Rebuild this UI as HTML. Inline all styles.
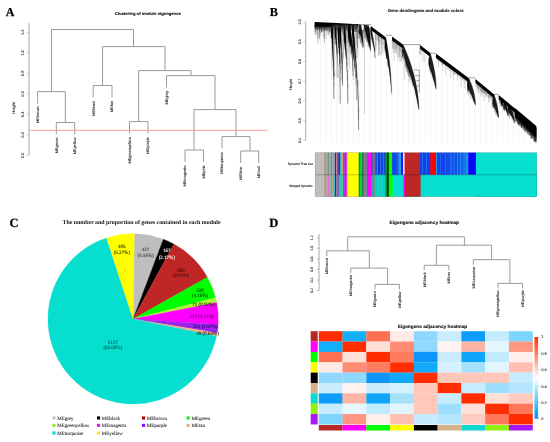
<!DOCTYPE html>
<html lang="en"><head><meta charset="utf-8"><title>WGCNA module figure</title>
<style>html,body{margin:0;padding:0;background:#fff}body{width:550px;height:442px;overflow:hidden}svg{display:block}text{text-rendering:geometricPrecision}</style></head>
<body>
<svg width="550" height="442" viewBox="0 0 550 442">
<rect width="550" height="442" fill="#fff"/>
<text x="5.80" y="15.80" text-anchor="start" font-family='"Liberation Serif", serif' font-size="12.0" font-weight="bold" fill="#000" stroke="#000" stroke-width="0.25" >A</text>
<text x="269.70" y="15.80" text-anchor="start" font-family='"Liberation Serif", serif' font-size="12.2" font-weight="bold" fill="#000" stroke="#000" stroke-width="0.25" >B</text>
<text x="9.50" y="227.30" text-anchor="start" font-family='"Liberation Serif", serif' font-size="12.5" font-weight="bold" fill="#000" stroke="#000" stroke-width="0.25" >C</text>
<text x="269.30" y="227.40" text-anchor="start" font-family='"Liberation Serif", serif' font-size="12.5" font-weight="bold" fill="#000" stroke="#000" stroke-width="0.25" >D</text>
<g id="panelA">
<text x="147.80" y="15.30" text-anchor="middle" font-family='"Liberation Sans", sans-serif' font-size="4.2" font-weight="bold" fill="#111" stroke="#111" stroke-width="0.1" >Clustering of module eigengenes</text>
<path d="M29.00 23.30V155.60" stroke="#c9c9c9" stroke-width="1.7" fill="none"/>
<path d="M26.40 155.30H29.00" stroke="#c4c4c4" stroke-width="0.8" fill="none"/>
<text transform="translate(22.80,155.30) rotate(-90)" text-anchor="middle" font-family='"Liberation Sans", sans-serif' font-size="4.0" font-weight="normal" fill="#222" stroke="#222" stroke-width="0.07" dy="1.44">0.0</text>
<path d="M26.40 134.80H29.00" stroke="#c4c4c4" stroke-width="0.8" fill="none"/>
<text transform="translate(22.80,134.80) rotate(-90)" text-anchor="middle" font-family='"Liberation Sans", sans-serif' font-size="4.0" font-weight="normal" fill="#222" stroke="#222" stroke-width="0.07" dy="1.44">0.2</text>
<path d="M26.40 114.30H29.00" stroke="#c4c4c4" stroke-width="0.8" fill="none"/>
<text transform="translate(22.80,114.30) rotate(-90)" text-anchor="middle" font-family='"Liberation Sans", sans-serif' font-size="4.0" font-weight="normal" fill="#222" stroke="#222" stroke-width="0.07" dy="1.44">0.4</text>
<path d="M26.40 93.80H29.00" stroke="#c4c4c4" stroke-width="0.8" fill="none"/>
<text transform="translate(22.80,93.80) rotate(-90)" text-anchor="middle" font-family='"Liberation Sans", sans-serif' font-size="4.0" font-weight="normal" fill="#222" stroke="#222" stroke-width="0.07" dy="1.44">0.6</text>
<path d="M26.40 73.30H29.00" stroke="#c4c4c4" stroke-width="0.8" fill="none"/>
<text transform="translate(22.80,73.30) rotate(-90)" text-anchor="middle" font-family='"Liberation Sans", sans-serif' font-size="4.0" font-weight="normal" fill="#222" stroke="#222" stroke-width="0.07" dy="1.44">0.8</text>
<path d="M26.40 52.80H29.00" stroke="#c4c4c4" stroke-width="0.8" fill="none"/>
<text transform="translate(22.80,52.80) rotate(-90)" text-anchor="middle" font-family='"Liberation Sans", sans-serif' font-size="4.0" font-weight="normal" fill="#222" stroke="#222" stroke-width="0.07" dy="1.44">1.0</text>
<path d="M26.40 32.30H29.00" stroke="#c4c4c4" stroke-width="0.8" fill="none"/>
<text transform="translate(22.80,32.30) rotate(-90)" text-anchor="middle" font-family='"Liberation Sans", sans-serif' font-size="4.0" font-weight="normal" fill="#222" stroke="#222" stroke-width="0.07" dy="1.44">1.2</text>
<text transform="translate(13.80,108.00) rotate(-90)" text-anchor="middle" font-family='"Liberation Sans", sans-serif' font-size="3.9" font-weight="normal" fill="#222" stroke="#222" stroke-width="0.07" dy="1.40">Height</text>
<path d="M51.50 29.50H133.50" stroke="#909090" stroke-width="0.9" fill="none"/>
<path d="M51.50 29.50V91.60" stroke="#909090" stroke-width="0.9" fill="none"/>
<path d="M37.60 91.60H65.30" stroke="#909090" stroke-width="0.9" fill="none"/>
<path d="M37.60 91.60V103.60" stroke="#909090" stroke-width="0.9" fill="none"/>
<path d="M65.30 91.60V122.50" stroke="#909090" stroke-width="0.9" fill="none"/>
<path d="M56.30 122.50H74.70" stroke="#909090" stroke-width="0.9" fill="none"/>
<path d="M56.30 122.50V134.20" stroke="#909090" stroke-width="0.9" fill="none"/>
<path d="M74.70 122.50V134.20" stroke="#909090" stroke-width="0.9" fill="none"/>
<path d="M133.50 29.50V46.60" stroke="#909090" stroke-width="0.9" fill="none"/>
<path d="M102.50 46.60H165.00" stroke="#909090" stroke-width="0.9" fill="none"/>
<path d="M102.50 46.60V85.50" stroke="#909090" stroke-width="0.9" fill="none"/>
<path d="M93.20 85.50H112.00" stroke="#909090" stroke-width="0.9" fill="none"/>
<path d="M93.20 85.50V97.30" stroke="#909090" stroke-width="0.9" fill="none"/>
<path d="M112.00 85.50V97.30" stroke="#909090" stroke-width="0.9" fill="none"/>
<path d="M165.00 46.60V70.60" stroke="#909090" stroke-width="0.9" fill="none"/>
<path d="M138.60 70.60H191.00" stroke="#909090" stroke-width="0.9" fill="none"/>
<path d="M138.60 70.60V121.60" stroke="#909090" stroke-width="0.9" fill="none"/>
<path d="M129.50 121.60H148.00" stroke="#909090" stroke-width="0.9" fill="none"/>
<path d="M129.50 121.60V133.50" stroke="#909090" stroke-width="0.9" fill="none"/>
<path d="M148.00 121.60V133.50" stroke="#909090" stroke-width="0.9" fill="none"/>
<path d="M191.00 70.60V75.60" stroke="#909090" stroke-width="0.9" fill="none"/>
<path d="M166.50 75.60H215.00" stroke="#909090" stroke-width="0.9" fill="none"/>
<path d="M166.50 75.60V87.50" stroke="#909090" stroke-width="0.9" fill="none"/>
<path d="M215.00 75.60V109.60" stroke="#909090" stroke-width="0.9" fill="none"/>
<path d="M194.00 109.60H236.00" stroke="#909090" stroke-width="0.9" fill="none"/>
<path d="M194.00 109.60V150.00" stroke="#909090" stroke-width="0.9" fill="none"/>
<path d="M185.00 150.00H203.50" stroke="#909090" stroke-width="0.9" fill="none"/>
<path d="M185.00 150.00V162.00" stroke="#909090" stroke-width="0.9" fill="none"/>
<path d="M203.50 150.00V162.00" stroke="#909090" stroke-width="0.9" fill="none"/>
<path d="M236.00 109.60V136.60" stroke="#909090" stroke-width="0.9" fill="none"/>
<path d="M222.00 136.60H250.00" stroke="#909090" stroke-width="0.9" fill="none"/>
<path d="M222.00 136.60V148.50" stroke="#909090" stroke-width="0.9" fill="none"/>
<path d="M250.00 136.60V151.00" stroke="#909090" stroke-width="0.9" fill="none"/>
<path d="M240.70 151.00H258.70" stroke="#909090" stroke-width="0.9" fill="none"/>
<path d="M240.70 151.00V163.00" stroke="#909090" stroke-width="0.9" fill="none"/>
<path d="M258.70 151.00V163.00" stroke="#909090" stroke-width="0.9" fill="none"/>
<text transform="translate(37.60,106.50) rotate(-90)" text-anchor="end" font-family='"Liberation Sans", sans-serif' font-size="3.9" font-weight="normal" fill="#222" stroke="#222" stroke-width="0.07" dy="1.40">MEbrown</text>
<text transform="translate(56.30,137.50) rotate(-90)" text-anchor="end" font-family='"Liberation Sans", sans-serif' font-size="3.9" font-weight="normal" fill="#222" stroke="#222" stroke-width="0.07" dy="1.40">MEgreen</text>
<text transform="translate(74.70,137.50) rotate(-90)" text-anchor="end" font-family='"Liberation Sans", sans-serif' font-size="3.9" font-weight="normal" fill="#222" stroke="#222" stroke-width="0.07" dy="1.40">MEyellow</text>
<text transform="translate(93.20,100.80) rotate(-90)" text-anchor="end" font-family='"Liberation Sans", sans-serif' font-size="3.9" font-weight="normal" fill="#222" stroke="#222" stroke-width="0.07" dy="1.40">MEblack</text>
<text transform="translate(112.00,100.80) rotate(-90)" text-anchor="end" font-family='"Liberation Sans", sans-serif' font-size="3.9" font-weight="normal" fill="#222" stroke="#222" stroke-width="0.07" dy="1.40">MEtan</text>
<text transform="translate(129.50,137.00) rotate(-90)" text-anchor="end" font-family='"Liberation Sans", sans-serif' font-size="3.9" font-weight="normal" fill="#222" stroke="#222" stroke-width="0.07" dy="1.40">MEgreenyellow</text>
<text transform="translate(148.00,137.00) rotate(-90)" text-anchor="end" font-family='"Liberation Sans", sans-serif' font-size="3.9" font-weight="normal" fill="#222" stroke="#222" stroke-width="0.07" dy="1.40">MEpurple</text>
<text transform="translate(166.50,91.00) rotate(-90)" text-anchor="end" font-family='"Liberation Sans", sans-serif' font-size="3.9" font-weight="normal" fill="#222" stroke="#222" stroke-width="0.07" dy="1.40">MEgrey</text>
<text transform="translate(185.00,165.50) rotate(-90)" text-anchor="end" font-family='"Liberation Sans", sans-serif' font-size="3.9" font-weight="normal" fill="#222" stroke="#222" stroke-width="0.07" dy="1.40">MEmagenta</text>
<text transform="translate(203.50,165.50) rotate(-90)" text-anchor="end" font-family='"Liberation Sans", sans-serif' font-size="3.9" font-weight="normal" fill="#222" stroke="#222" stroke-width="0.07" dy="1.40">MEpink</text>
<text transform="translate(222.00,152.00) rotate(-90)" text-anchor="end" font-family='"Liberation Sans", sans-serif' font-size="3.9" font-weight="normal" fill="#222" stroke="#222" stroke-width="0.07" dy="1.40">MEturquoise</text>
<text transform="translate(240.70,166.50) rotate(-90)" text-anchor="end" font-family='"Liberation Sans", sans-serif' font-size="3.9" font-weight="normal" fill="#222" stroke="#222" stroke-width="0.07" dy="1.40">MEblue</text>
<text transform="translate(258.70,166.50) rotate(-90)" text-anchor="end" font-family='"Liberation Sans", sans-serif' font-size="3.9" font-weight="normal" fill="#222" stroke="#222" stroke-width="0.07" dy="1.40">MEred</text>
<path d="M29.30 130.30H267.50" stroke="#ff8f8f" stroke-width="0.9" fill="none"/>
</g>
<g id="panelB">
<text x="425.60" y="12.00" text-anchor="middle" font-family='"Liberation Sans", sans-serif' font-size="4.27" font-weight="bold" fill="#111" stroke="#111" stroke-width="0.1" >Gene dendrogram and module colors</text>
<path d="M305.60 22.00V140.40" stroke="#bdbdbd" stroke-width="1.3" fill="none"/>
<path d="M303.40 22.00H305.60" stroke="#bdbdbd" stroke-width="0.8" fill="none"/>
<text transform="translate(299.30,22.00) rotate(-90)" text-anchor="middle" font-family='"Liberation Sans", sans-serif' font-size="3.6" font-weight="normal" fill="#222" stroke="#222" stroke-width="0.07" dy="1.30">1.0</text>
<path d="M303.40 41.70H305.60" stroke="#bdbdbd" stroke-width="0.8" fill="none"/>
<text transform="translate(299.30,41.70) rotate(-90)" text-anchor="middle" font-family='"Liberation Sans", sans-serif' font-size="3.6" font-weight="normal" fill="#222" stroke="#222" stroke-width="0.07" dy="1.30">0.9</text>
<path d="M303.40 61.50H305.60" stroke="#bdbdbd" stroke-width="0.8" fill="none"/>
<text transform="translate(299.30,61.50) rotate(-90)" text-anchor="middle" font-family='"Liberation Sans", sans-serif' font-size="3.6" font-weight="normal" fill="#222" stroke="#222" stroke-width="0.07" dy="1.30">0.8</text>
<path d="M303.40 81.20H305.60" stroke="#bdbdbd" stroke-width="0.8" fill="none"/>
<text transform="translate(299.30,81.20) rotate(-90)" text-anchor="middle" font-family='"Liberation Sans", sans-serif' font-size="3.6" font-weight="normal" fill="#222" stroke="#222" stroke-width="0.07" dy="1.30">0.7</text>
<path d="M303.40 101.00H305.60" stroke="#bdbdbd" stroke-width="0.8" fill="none"/>
<text transform="translate(299.30,101.00) rotate(-90)" text-anchor="middle" font-family='"Liberation Sans", sans-serif' font-size="3.6" font-weight="normal" fill="#222" stroke="#222" stroke-width="0.07" dy="1.30">0.6</text>
<path d="M303.40 120.80H305.60" stroke="#bdbdbd" stroke-width="0.8" fill="none"/>
<text transform="translate(299.30,120.80) rotate(-90)" text-anchor="middle" font-family='"Liberation Sans", sans-serif' font-size="3.6" font-weight="normal" fill="#222" stroke="#222" stroke-width="0.07" dy="1.30">0.5</text>
<path d="M303.40 140.40H305.60" stroke="#bdbdbd" stroke-width="0.8" fill="none"/>
<text transform="translate(299.30,140.40) rotate(-90)" text-anchor="middle" font-family='"Liberation Sans", sans-serif' font-size="3.6" font-weight="normal" fill="#222" stroke="#222" stroke-width="0.07" dy="1.30">0.4</text>
<text transform="translate(290.70,84.30) rotate(-90)" text-anchor="middle" font-family='"Liberation Sans", sans-serif' font-size="3.75" font-weight="normal" fill="#222" stroke="#222" stroke-width="0.07" dy="1.35">Height</text>
<text x="312.80" y="164.90" text-anchor="end" font-family='"Liberation Sans", sans-serif' font-size="3.12" font-weight="normal" fill="#222" stroke="#222" stroke-width="0.1" >Dynamic Tree Cut</text>
<text x="312.60" y="187.20" text-anchor="end" font-family='"Liberation Sans", sans-serif' font-size="3.12" font-weight="normal" fill="#222" stroke="#222" stroke-width="0.1" >Merged dynamic</text>
<path d="M320.30 26.33V143.5M325.82 26.64V143.5M331.34 26.96V143.5M336.86 27.00V143.5M342.38 27.00V143.5M347.90 27.00V143.5M353.42 27.00V143.5M358.94 27.22V143.5M364.46 28.49V143.5M369.98 29.76V143.5M375.50 33.60V143.5M381.02 38.02V143.5M386.54 41.91V143.5M392.06 41.04V143.5M397.58 45.06V143.5M403.10 49.01V143.5M408.62 49.33V143.5M414.14 49.66V143.5M419.66 49.98V143.5M425.18 54.14V143.5M430.70 58.06V143.5M436.22 58.67V143.5M441.74 62.81V143.5M447.26 66.96V143.5M452.78 71.11V143.5M458.30 75.26V143.5M463.82 79.41V143.5M469.34 83.11V143.5M474.86 83.92V143.5M480.38 88.02V143.5M485.90 92.47V143.5M491.42 96.92V143.5M496.94 99.59V143.5M502.46 103.89V143.5M507.98 110.10V143.5M513.50 116.31V143.5M519.02 122.49V143.5M524.54 128.65V143.5M530.06 134.81V143.5M535.58 140.97V143.5" stroke="#e9e9e9" stroke-width="0.5" fill="none"/>
<path d="M314.90 26.00V35.04M315.50 26.00V34.57M316.10 26.00V34.61M317.00 26.00V32.73M317.30 26.00V37.29M317.90 26.00V38.84M318.80 26.00V30.14M319.40 26.00V31.71M319.70 26.00V34.18M320.90 26.00V35.96M321.20 26.00V32.50M322.70 26.00V32.07M323.00 26.00V30.63M323.60 26.00V37.62M323.90 26.00V38.62M324.50 26.00V31.89M324.80 26.00V38.82M325.10 26.00V30.66M326.00 26.00V30.78M326.30 26.00V38.68M326.90 26.00V32.22M327.20 26.00V30.54M327.80 26.00V35.03M328.10 26.00V31.72M328.70 26.00V35.79M329.00 26.00V33.79M329.30 26.00V32.43M330.20 26.00V37.96M330.50 26.00V33.55M331.40 26.00V38.90M331.70 26.00V32.32M333.01 48.60V54.77M332.53 49.77V54.61M332.74 50.97V59.58M333.17 54.71V62.39M333.44 58.69V66.23M333.60 62.90V66.99M333.50 68.86V75.76M334.10 70.41V75.66M333.69 71.99V76.57M334.30 73.59V77.04M334.18 75.22V79.58M334.22 81.96V87.11M336.49 42.28V46.03M336.98 45.80V54.27M337.23 47.05V49.94M336.79 47.05V53.93M337.43 49.66V53.02M339.22 50.08V53.30M339.63 50.08V55.55M339.95 52.45V61.32M339.88 52.45V58.05M339.71 54.92V63.53M339.98 58.79V64.22M339.52 58.79V64.65M339.90 60.14V66.73M340.55 67.19V73.95M340.23 78.04V81.59M342.01 52.18V60.65M341.68 53.53V58.61M341.86 54.91V58.16M342.16 57.77V63.42M341.97 59.24V62.68M346.36 51.26V58.19M345.78 52.45V56.88M346.80 56.19V59.80M347.17 62.89V67.15M346.88 68.67V72.12M347.40 76.42V80.99M348.07 84.74V87.48M350.77 43.94V52.56M351.70 46.42V51.80M351.76 49.05V53.32M351.69 50.42V57.24M352.47 56.30V62.43M352.41 48.36V54.08M352.93 49.51V54.12M352.73 50.70V55.37M353.40 54.39V59.30M353.20 54.39V57.34M354.48 59.68V66.19M354.80 63.90V68.62M354.77 63.90V68.26M355.12 66.84V71.85M355.39 69.88V74.45M355.86 74.62V78.66M355.87 74.62V77.18M356.19 79.57V85.73M356.27 62.45V67.84M356.35 63.70V66.68M356.05 64.96V70.06M356.46 70.22V77.34M356.89 71.57V77.48M356.49 72.95V76.45M356.91 74.34V79.30M357.71 80.07V84.98M358.80 109.19V113.07M332.05 24.00V70.47M332.38 24.00V60.16M333.37 24.00V67.75M333.70 24.00V73.49M334.36 24.00V76.20M336.01 24.00V46.01M336.34 24.00V76.59M337.00 24.00V57.55M338.32 24.00V50.27M339.64 24.00V59.23M339.97 24.00V54.61M340.63 24.00V69.79M340.96 24.00V69.75M341.62 24.00V79.64M342.28 24.00V81.79M343.27 24.00V58.33M343.60 24.00V58.99M345.58 24.00V51.40M346.24 24.00V53.46M347.89 24.00V66.05M348.55 24.00V53.25M349.54 24.00V68.88M349.87 24.00V47.29M350.53 24.00V55.66M352.18 24.00V45.54M352.51 24.00V70.92M353.17 24.00V79.99M353.50 24.00V60.77M353.83 24.00V54.64M355.81 24.00V68.00M356.80 24.00V58.05M357.46 24.00V50.38M357.79 24.00V57.79M339.30 70.00V103.80M333.50 60.00V99.00M347.70 70.00V103.50M342.50 60.00V85.50M358.60 95.00V130.00M358.30 80.00V120.00M364.40 40.00V114.00M371.01 30.00V33.71M370.95 30.16V32.71M370.98 30.16V35.12M371.33 30.48V33.26M371.48 30.92V35.66M371.19 30.92V37.25M370.77 31.47V34.42M371.35 32.80V35.12M371.26 33.59V40.02M371.46 34.44V36.91M371.34 35.36V41.35M371.64 35.36V40.22M372.12 38.50V43.36M372.46 39.66V43.21M372.80 40.88V44.40M373.12 40.88V42.97M373.11 43.47V46.50M373.70 44.84V47.30M373.91 46.26V50.91M374.32 47.73V52.16M374.95 55.76V57.58M376.11 32.92V46.94M378.45 34.66V44.66M381.52 36.93V45.53M385.38 39.79V53.61M375.41 32.41V39.50M377.09 33.65V39.86M377.81 34.18V41.00M378.52 34.71V40.83M379.89 35.72V43.36M381.37 36.82V39.93M383.24 38.20V44.96M384.64 39.24V42.27M387.53 57.32V62.49M387.45 59.79V66.79M388.27 61.07V64.53M387.93 61.07V66.94M388.32 62.38V66.33M388.86 63.72V66.49M389.05 65.09V67.77M389.35 66.49V70.05M389.32 67.92V70.35M389.46 69.38V75.65M389.86 72.37V75.12M390.04 73.90V76.65M390.43 77.06V81.00M390.65 80.31V83.27M391.44 87.13V90.48M391.71 90.69V94.78M394.26 41.32V60.89M395.62 42.30V52.62M399.08 44.77V61.66M401.73 46.68V62.48M392.97 40.39V43.40M393.65 40.88V48.65M395.42 42.15V50.15M396.51 42.93V47.95M397.53 43.66V46.75M399.05 44.75V49.33M400.35 45.69V51.84M401.36 46.41V53.46M402.50 47.23V51.63M402.91 49.00V56.21M402.42 49.11V56.89M402.53 49.11V54.65M402.70 49.33V58.03M402.61 49.63V57.53M403.24 49.99V55.27M403.20 50.42V57.97M403.38 50.42V53.37M403.16 50.90V54.16M403.17 51.43V59.76M403.91 52.01V55.72M403.63 53.30V60.26M404.21 54.75V58.25M404.66 54.75V57.95M404.40 55.54V58.58M404.27 55.54V59.02M404.77 56.36V62.46M405.33 57.22V60.41M404.63 57.22V61.75M405.17 59.04V63.61M405.28 59.04V66.28M405.77 60.00V67.48M405.70 60.99V68.95M406.41 62.01V66.85M405.93 62.01V65.58M406.08 63.06V66.85M406.86 64.15V69.24M406.75 65.26V69.42M406.95 65.26V71.12M407.57 66.40V72.22M407.48 66.40V73.60M407.98 67.57V72.88M407.92 67.57V74.84M408.86 68.77V75.62M408.98 70.00V77.43M408.71 70.00V76.09M409.50 71.25V74.42M409.57 72.53V78.27M409.94 72.53V77.34M410.26 73.83V76.16M410.63 75.16V80.19M410.94 76.52V81.11M411.38 76.52V83.32M411.67 77.90V80.51M412.43 79.30V85.09M412.49 79.30V83.77M412.65 80.73V87.07M413.31 82.17V86.48M413.23 83.65V86.65M415.73 91.32V94.37M415.82 91.32V93.32M416.09 92.92V97.02M416.69 96.16V98.33M417.37 99.47V103.63M418.00 102.81V104.62M404.20 50.00V80.00M409.00 60.00V83.00M406.50 55.00V72.00M421.09 49.28V55.41M422.94 50.73V61.50M424.98 52.33V62.25M428.55 55.13V65.30M429.32 56.90V60.55M429.81 57.33V64.98M429.83 57.33V63.36M429.23 58.22V63.62M429.04 58.22V65.48M429.35 58.78V65.34M429.13 58.78V64.45M429.20 59.42V62.30M429.22 59.42V64.74M429.21 60.89V64.56M429.65 60.89V63.97M429.41 61.71V68.03M429.28 63.53V70.79M429.47 64.52V67.10M429.46 65.56V69.11M430.04 66.64V71.85M430.18 67.77V70.43M431.01 68.95V74.97M430.30 68.95V72.26M430.77 70.17V74.06M432.04 72.73V77.43M432.51 74.07V76.50M432.32 74.07V76.07M432.68 75.44V79.07M433.13 75.44V80.49M433.99 78.30V80.49M433.38 78.30V83.03M435.06 82.83V86.50M438.46 59.29V67.66M442.87 62.58V70.86M445.67 64.68V75.17M450.40 68.21V78.14M453.28 70.36V79.72M457.25 73.33V80.81M461.17 76.25V87.00M464.87 79.01V88.36M467.86 81.25V90.52M437.77 58.78V61.62M439.25 59.88V62.23M440.46 60.79V62.33M441.38 61.47V64.89M442.14 62.04V65.07M442.86 62.58V65.07M444.35 63.69V65.68M445.76 64.75V66.40M446.85 65.55V69.11M448.19 66.55V69.03M449.28 67.37V70.65M450.54 68.31V71.68M451.62 69.12V71.24M452.82 70.02V72.92M453.87 70.80V74.76M454.50 71.27V74.72M455.33 71.89V75.20M456.78 72.97V75.16M457.84 73.77V76.59M458.84 74.51V76.43M459.97 75.35V79.08M461.13 76.22V78.44M462.43 77.20V79.75M463.08 77.68V80.69M464.04 78.39V81.22M465.53 79.51V82.43M466.98 80.59V82.98M468.24 81.53V83.22M468.03 81.50V89.70M467.69 81.50V86.69M467.49 81.67V86.95M467.59 81.67V86.55M467.63 82.51V86.08M468.12 82.51V89.96M467.89 83.10V90.18M468.15 83.10V91.19M468.08 83.78V90.77M468.22 83.78V87.87M467.80 84.55V89.89M468.08 85.40V93.78M467.77 85.40V91.66M468.43 86.33V90.87M468.00 86.33V93.61M467.88 87.32V91.83M468.92 88.39V95.51M469.10 89.51V93.11M469.98 90.70V93.36M470.50 91.94V94.67M470.32 91.94V98.89M471.35 94.58V96.79M472.09 95.97V100.73M472.84 97.40V100.47M473.34 98.87V101.63M473.26 98.87V100.79M474.09 100.38V103.04M474.29 100.38V103.71M477.11 83.91V92.91M478.57 85.11V93.45M480.18 86.43V95.24M481.82 87.79V96.99M483.88 89.48V100.84M485.04 90.43V96.57M486.32 91.49V97.68M488.40 93.19V102.92M489.65 94.23V101.37M491.84 96.03V107.04M493.74 97.58V107.73M493.08 97.90V104.88M493.65 97.90V105.43M493.02 98.09V101.19M493.09 98.47V101.52M493.31 98.47V107.36M493.08 98.99V106.94M493.38 98.99V105.63M493.25 99.62V104.73M493.31 100.36V104.19M493.46 101.19V105.25M493.42 101.19V107.77M492.80 102.10V106.04M493.32 102.10V108.65M493.14 103.10V107.72M493.18 104.16V109.21M494.07 105.30V107.93M494.43 105.30V109.55M494.28 106.51V111.65M495.09 107.77V112.26M495.37 109.09V114.33M496.44 110.46V112.61M496.13 110.46V115.89M497.98 114.80V116.97M497.35 114.80V116.59M499.76 99.43V107.04M501.04 100.48V104.70M501.59 100.93V106.65M502.21 101.44V106.12M502.84 101.96V109.81M503.44 102.46V107.47M504.37 103.23V109.48M504.96 103.71V111.12M505.87 104.46V110.78M506.74 105.18V109.42M507.75 106.01V111.17M508.50 106.63V110.68M509.75 107.65V115.18M510.55 108.32V115.57M511.85 109.38V114.18M512.64 110.04V118.29M513.43 110.69V118.93M514.69 111.73V115.97M501.20 101.00V103.93M501.23 101.16V106.53M500.97 101.48V104.97M501.31 101.48V105.22M501.43 101.92V107.44M501.43 102.47V104.89M501.26 102.47V104.97M502.12 104.59V106.32M503.90 107.35V108.73M503.87 108.40V109.73M504.11 104.22V109.69M504.53 104.67V110.91M504.86 106.04V110.88M504.25 106.04V110.20M504.87 106.91V111.03M504.44 106.91V109.48M506.45 110.14V113.54M507.81 108.00V114.40M507.87 108.00V112.97M508.40 108.20V113.25M508.08 108.20V115.72M507.88 108.61V116.00M507.97 108.61V111.90M508.04 109.16V115.28M508.49 109.84V115.43M508.88 109.84V114.03M508.95 110.63V113.56M508.85 110.63V115.37M509.18 112.49V117.50M509.38 112.49V118.94M510.40 113.55V116.01M511.97 115.88V121.30M512.51 117.15V119.48M513.87 119.84V122.37M514.03 119.84V123.66" stroke="#000" stroke-opacity="0.33" stroke-width="0.5" fill="none"/>
<path d="M317.90 26.00V43.72M319.40 26.00V37.94M319.70 26.00V39.52M324.50 26.00V43.28M331.90 27.50V31.59M332.13 27.50V32.94M332.02 27.59V38.75M332.12 27.77V38.18M331.79 27.77V38.51M331.82 28.01V37.39M332.43 28.32V38.80M331.75 28.67V32.44M332.24 29.06V34.55M331.83 29.98V39.04M331.87 29.98V37.79M332.44 31.05V36.03M331.92 31.05V37.90M331.86 31.64V37.86M332.02 32.26V42.45M331.79 33.60V37.07M332.31 35.07V41.96M332.62 35.86V39.68M332.49 39.27V48.90M332.61 40.20V49.48M332.52 42.14V49.47M332.56 42.14V52.15M332.89 46.34V49.53M335.45 27.50V37.37M335.27 27.60V32.73M335.51 28.08V39.34M335.44 28.43V34.42M334.94 29.28V36.15M335.49 29.28V36.51M335.56 29.78V33.68M335.23 30.33V39.78M335.08 30.33V37.69M335.87 32.23V36.19M335.54 32.23V37.72M335.62 34.51V43.87M336.07 35.35V45.49M335.98 37.14V43.78M336.42 38.10V44.74M336.42 41.18V46.87M338.39 27.50V36.48M338.23 27.50V36.46M338.48 27.76V37.31M338.62 27.76V32.76M338.16 28.00V31.78M338.49 28.00V36.02M338.24 28.29V33.39M338.16 29.01V39.99M338.72 29.01V35.05M338.53 29.43V36.27M338.69 29.90V39.95M338.50 29.90V39.13M338.31 30.40V35.11M338.16 30.40V40.79M338.68 32.10V39.36M338.95 32.73V41.79M338.99 34.09V44.06M338.91 35.56V39.39M338.70 35.56V38.94M338.87 36.35V44.24M339.11 36.35V44.55M338.92 37.16V44.59M339.22 37.99V45.91M338.99 39.75V48.24M338.82 39.75V43.30M338.83 40.67V44.53M339.26 40.67V47.74M339.18 44.60V52.87M339.45 44.60V48.76M339.15 45.65V52.83M339.58 46.72V52.56M339.48 48.94V55.58M339.53 48.94V53.84M340.26 27.50V38.37M339.96 27.50V31.78M339.73 27.60V35.60M340.22 27.79V33.66M339.85 28.06V36.80M339.92 28.06V37.30M339.80 28.39V34.69M339.80 28.77V37.81M340.40 30.20V35.97M340.08 30.20V40.85M340.07 30.76V36.96M340.13 31.36V37.70M340.26 31.36V40.83M340.48 32.69V42.64M339.93 33.41V40.55M340.49 35.78V44.71M340.12 35.78V44.34M340.61 36.64V40.87M340.40 38.47V46.96M340.56 39.43V49.24M344.10 27.50V34.78M344.73 27.50V36.71M344.22 27.59V33.66M344.80 27.76V35.37M344.54 28.00V32.68M344.78 28.29V38.49M344.35 28.63V37.78M344.53 29.01V36.17M344.81 29.90V36.60M344.86 30.40V35.45M344.62 30.40V35.05M344.47 30.93V34.93M344.62 31.50V40.42M344.80 31.50V35.71M344.64 32.10V42.91M344.61 32.73V41.52M344.79 33.39V40.22M345.13 33.39V42.82M344.86 34.09V39.61M344.80 34.09V39.67M344.72 34.81V43.13M344.57 34.81V43.61M345.20 35.56V43.05M345.15 36.35V40.30M344.57 36.35V44.64M344.86 37.16V46.56M344.76 37.99V42.37M344.96 38.86V42.59M345.10 39.75V47.58M345.01 40.67V46.76M345.12 41.61V49.69M345.20 43.58V49.04M345.30 44.60V51.16M345.80 46.72V55.80M345.97 48.94V58.38M348.54 27.50V38.20M348.57 27.60V33.53M348.03 27.60V32.09M348.40 27.81V34.46M348.56 27.81V35.49M348.28 28.10V34.71M348.09 28.10V38.80M348.78 28.86V34.05M348.91 29.84V34.20M348.63 31.02V36.65M348.49 31.02V41.18M348.82 31.67V39.41M348.66 32.37V42.37M349.03 32.37V42.63M348.91 33.11V38.56M349.65 34.72V40.47M349.82 35.59V45.83M349.62 35.59V40.12M349.34 36.49V44.71M350.12 37.44V46.54M350.10 38.43V47.86M349.92 39.45V44.52M350.09 40.51V45.04M349.40 27.50V32.77M349.42 27.59V31.37M349.59 27.59V35.66M349.17 27.77V31.40M349.42 28.01V35.01M349.72 28.01V32.07M349.55 28.31V38.07M349.28 28.65V34.59M349.41 28.65V37.04M349.42 29.05V37.15M349.87 29.05V33.86M349.40 29.48V38.35M349.66 29.95V36.24M350.18 30.46V34.21M350.01 30.46V41.56M349.84 31.01V40.19M349.67 31.01V41.31M349.87 31.59V37.28M349.62 31.59V35.25M349.93 32.86V40.42M350.20 33.54V43.93M350.10 33.54V44.30M350.25 34.25V42.45M350.31 34.99V43.48M350.58 36.57V46.02M350.89 36.57V41.41M350.53 37.40V44.64M350.55 37.40V42.20M350.87 38.26V48.66M351.09 40.06V43.74M351.14 41.00V44.27M351.13 41.00V46.91M351.51 42.97V47.12M351.99 44.00V52.00M351.81 45.05V50.68M352.26 45.05V50.28M352.28 47.23V51.78M352.08 47.23V54.14M352.82 27.50V33.88M352.73 27.57V32.90M352.59 27.73V35.57M352.78 27.73V35.17M353.10 27.93V35.90M352.92 28.48V39.01M353.21 28.48V37.49M353.18 29.18V36.53M353.01 29.58V35.30M352.93 30.01V35.43M352.89 30.01V37.51M352.83 30.48V34.46M353.34 30.48V34.81M353.43 30.97V38.17M353.50 30.97V41.21M353.05 31.49V38.87M353.46 32.04V37.41M353.19 32.61V41.90M353.58 33.83V42.00M353.36 34.48V42.97M353.26 35.15V38.61M353.77 36.56V43.06M354.02 37.31V48.05M353.84 37.31V41.51M353.56 38.07V46.84M353.66 38.85V42.34M353.75 39.66V45.22M353.83 40.49V48.29M354.21 42.21V49.41M353.87 43.10V47.08M354.19 44.01V48.07M353.82 44.01V51.27M354.38 44.94V50.08M354.26 44.94V50.73M353.99 45.89V49.51M354.10 46.86V51.29M354.81 47.85V54.37M354.33 49.89V56.78M355.12 50.94V59.93M354.71 54.20V58.34M354.75 54.20V59.61M355.22 55.32V58.38M355.70 56.46V59.50M332.12 24.00V45.66M332.45 24.00V44.53M333.44 24.00V35.03M333.77 24.00V39.99M334.43 24.00V44.40M336.08 24.00V36.59M336.41 24.00V36.22M337.07 24.00V33.27M338.39 24.00V47.78M339.71 24.00V42.03M340.04 24.00V36.11M340.70 24.00V40.86M341.03 24.00V32.30M341.69 24.00V32.09M342.35 24.00V33.53M343.34 24.00V35.58M343.67 24.00V41.36M345.65 24.00V42.67M346.31 24.00V45.71M347.96 24.00V43.38M348.62 24.00V37.54M349.61 24.00V42.51M349.94 24.00V37.41M350.60 24.00V37.57M352.25 24.00V46.14M352.58 24.00V36.74M353.24 24.00V46.16M353.57 24.00V41.39M353.90 24.00V38.37M355.88 24.00V44.92M356.87 24.00V38.32M357.53 24.00V47.82M357.86 24.00V32.57M358.80 30.00V38.97M359.25 30.00V37.41M359.70 30.00V38.83M360.15 30.00V41.84M360.60 30.00V42.81M361.05 30.00V44.37M361.50 30.00V43.49M361.95 30.00V46.80M362.40 30.00V47.56M362.85 30.00V48.82M363.30 30.00V47.28M363.60 28.00V33.34M364.05 28.00V32.25M364.50 28.00V37.64M364.95 28.00V39.23M365.40 28.00V40.16M365.85 28.00V36.97M366.30 28.00V39.78M366.75 28.00V41.87M367.20 28.00V43.03M367.65 28.00V42.09M368.10 28.00V46.65M368.55 28.00V45.38M369.00 28.00V47.58M369.45 28.00V46.83M369.90 28.00V50.22M370.35 28.00V49.20M375.75 32.66V50.81M378.42 34.64V55.64M379.46 35.40V54.78M381.15 36.66V55.68M382.73 37.83V53.20M384.42 39.08V50.49M385.14 40.00V48.24M385.50 40.11V43.74M385.31 40.11V49.11M385.81 40.35V44.58M385.50 40.35V48.59M385.79 40.67V46.55M385.44 40.67V45.95M385.86 41.05V47.05M385.43 41.05V48.85M385.74 41.51V45.41M385.31 41.51V46.54M385.47 42.02V48.56M385.50 42.02V48.45M385.69 42.58V48.40M385.83 43.20V47.45M385.90 43.86V50.17M385.37 43.86V51.70M385.94 44.57V49.97M385.82 44.57V53.26M385.82 45.32V49.47M385.74 46.12V53.89M386.12 46.95V53.01M385.82 46.95V50.55M386.33 48.74V52.66M386.22 49.69V55.80M386.40 49.69V55.64M386.73 51.70V58.26M386.75 52.76V59.28M386.27 52.76V55.42M386.45 53.85V57.95M386.36 53.85V58.98M386.71 54.97V58.93M387.18 54.97V58.31M392.35 39.95V49.15M393.86 41.03V52.86M396.43 42.87V53.54M397.90 43.93V57.17M399.42 45.02V57.20M400.93 46.10V61.12M402.30 47.08V56.94M476.36 83.30V86.49M477.21 83.99V88.63M478.40 84.97V89.72M479.47 85.85V88.07M480.06 86.34V91.26M480.90 87.03V90.57M481.55 87.56V92.15M482.36 88.23V93.20M482.82 88.61V93.59M483.23 88.95V91.39M483.94 89.53V93.45M484.43 89.93V93.62M485.58 90.88V94.19M486.59 91.71V95.49M487.46 92.42V94.94M488.23 93.06V97.76M489.17 93.83V96.48M489.93 94.45V98.08M490.60 95.00V98.74M491.50 95.75V97.80M492.08 96.22V100.19M492.65 96.69V98.91M493.66 97.52V100.52M499.18 98.94V103.07M499.95 99.58V103.53M500.80 100.28V102.43M501.34 100.73V105.21M502.10 101.35V103.25M502.98 102.08V106.17M503.80 102.76V105.53M504.47 103.30V108.16M505.31 104.00V107.52M506.14 104.68V109.68M506.94 105.34V109.14M507.82 106.07V108.07M508.36 106.51V109.99M508.74 106.83V111.06M509.08 107.10V110.80M509.55 107.49V110.12M510.21 108.04V110.21M510.78 108.50V113.00M511.67 109.24V111.66M512.19 109.67V113.60M512.60 110.01V114.48M513.02 110.35V113.80M513.53 110.77V112.27M513.83 111.02V112.52M514.32 111.43V113.89" stroke="#000" stroke-opacity="0.55" stroke-width="0.45" fill="none"/>
<path d="M314.80 25.00V28.52M315.10 25.00V31.77M315.40 25.00V28.58M315.70 25.00V29.23M316.00 25.00V27.67M316.30 25.00V29.48M316.60 25.00V30.64M316.90 25.00V27.54M317.20 25.00V27.54M317.50 25.00V29.90M317.80 25.00V27.51M318.10 25.00V29.64M318.40 25.00V29.39M318.70 25.00V27.62M319.00 25.00V28.90M319.30 25.00V27.52M319.60 25.00V27.50M319.90 25.00V31.05M320.20 25.00V28.85M320.50 25.00V29.55M320.80 25.00V28.75M321.10 25.00V28.55M321.40 25.00V32.48M321.70 25.00V32.46M322.00 25.00V31.03M322.30 25.00V30.00M322.60 25.00V28.00M322.90 25.00V27.92M323.20 25.00V30.44M323.50 25.00V28.30M323.80 25.00V28.25M324.10 25.00V31.09M324.40 25.00V27.50M324.70 25.00V28.60M325.00 25.00V28.29M325.30 25.00V29.48M325.60 25.00V30.53M325.90 25.00V27.86M326.20 25.00V28.05M326.50 25.00V30.37M326.80 25.00V27.57M327.10 25.00V27.55M327.40 25.00V30.68M327.70 25.00V27.66M328.00 25.00V28.50M328.30 25.00V30.18M328.60 25.00V27.59M328.90 25.00V27.57M329.20 25.00V27.73M329.50 25.00V32.21M329.80 25.00V30.73M330.10 25.00V27.96M330.40 25.00V27.72M330.70 25.00V31.15M331.00 25.00V29.56M331.30 25.00V27.55M331.60 25.00V27.73M331.90 25.00V30.49M332.00 24.00V26.10M332.33 24.00V26.75M332.66 24.00V28.36M332.99 24.00V30.83M333.32 24.00V26.52M333.65 24.00V26.12M333.98 24.00V28.06M334.31 24.00V26.71M334.64 24.00V30.06M334.97 24.00V28.44M335.30 24.00V31.17M335.63 24.00V30.27M335.96 24.00V26.35M336.29 24.00V26.04M336.62 24.00V30.57M336.95 24.00V26.24M337.28 24.00V30.70M337.61 24.00V28.91M337.94 24.00V31.14M338.27 24.00V26.12M338.60 24.00V28.99M338.93 24.00V30.92M339.26 24.00V29.72M339.59 24.00V26.52M339.92 24.00V26.01M340.25 24.00V29.00M340.58 24.00V26.88M340.91 24.00V26.46M341.24 24.00V27.91M341.57 24.00V26.28M341.90 24.00V28.86M342.23 24.00V27.28M342.56 24.00V29.45M342.89 24.00V29.79M343.22 24.00V27.30M343.55 24.00V26.34M343.88 24.00V30.46M344.21 24.00V27.57M344.54 24.00V27.85M344.87 24.00V28.16M345.20 24.00V31.48M345.53 24.00V27.22M345.86 24.00V28.65M346.19 24.00V26.91M346.52 24.00V30.74M346.85 24.00V29.34M347.18 24.00V27.84M347.51 24.00V31.41M347.84 24.00V27.45M348.17 24.00V27.80M348.50 24.00V26.10M348.83 24.00V27.76M349.16 24.00V31.60M349.49 24.00V26.95M349.82 24.00V26.73M350.15 24.00V31.08M350.48 24.00V26.76M350.81 24.00V30.46M351.14 24.00V30.70M351.47 24.00V28.72M351.80 24.00V28.42M352.13 24.00V26.19M352.46 24.00V27.32M352.79 24.00V29.28M353.12 24.00V27.21M353.45 24.00V26.02M353.78 24.00V27.31M354.11 24.00V29.30M354.44 24.00V28.83M354.77 24.00V31.74M355.10 24.00V31.79M355.43 24.00V31.93M355.76 24.00V27.49M356.09 24.00V29.52M356.42 24.00V31.98M356.75 24.00V26.10M357.08 24.00V29.19M357.41 24.00V26.61M357.74 24.00V27.35M514.90 110.00V119.59M515.12 110.19V118.26M515.34 110.37V118.38M515.56 110.56V118.94M515.78 110.74V122.12M516.00 110.93V120.86M516.22 111.12V121.76M516.44 111.30V120.72M516.66 111.49V120.97M516.88 111.67V120.33M517.10 111.86V124.15M517.32 112.05V122.71M517.54 112.23V120.79M517.76 112.42V123.60M517.98 112.61V123.36M518.20 112.79V123.65M518.42 112.98V124.58M518.64 113.16V124.08M518.86 113.35V125.52M519.08 113.54V126.16M519.30 113.72V123.85M519.52 113.91V125.17M519.74 114.09V124.16M519.96 114.28V124.55M520.18 114.47V124.58M520.40 114.65V126.07M520.62 114.84V124.97M520.84 115.02V125.19M521.06 115.21V127.64M521.28 115.40V127.66M521.50 115.58V127.33M521.72 115.77V128.31M521.94 115.95V126.47M522.16 116.14V127.86M522.38 116.33V126.32M522.60 116.51V126.84M522.82 116.70V126.09M523.04 116.88V129.46M523.26 117.07V130.24M523.48 117.26V127.68M523.70 117.44V128.25M523.92 117.63V127.30M524.14 117.82V127.64M524.36 118.00V130.10M524.58 118.19V131.47M524.80 118.37V128.06M525.02 118.56V129.05M525.24 118.75V131.55M525.46 118.93V129.37M525.68 119.12V132.53M525.90 119.30V130.40M526.12 119.49V131.16M526.34 119.68V130.17M526.56 119.86V130.80M526.78 120.05V131.62M527.00 120.23V131.19M527.22 120.42V133.45M527.44 120.61V130.53M527.66 120.79V133.49M527.88 120.98V134.46M528.10 121.16V132.54M528.32 121.35V132.16M528.54 121.54V132.06M528.76 121.72V132.10M528.98 121.91V135.54M529.20 122.09V134.91M529.42 122.28V132.50M529.64 122.47V134.69M529.86 122.65V135.57M530.08 122.84V134.54M530.30 123.03V133.49M530.52 123.21V135.45M530.74 123.40V135.38M530.96 123.58V138.39M531.18 123.77V135.86M531.40 123.96V138.61M531.62 124.14V138.59M531.84 124.33V137.50M532.06 124.51V135.71M532.28 124.70V139.00M532.50 124.89V136.00M532.72 125.07V138.33M532.94 125.26V136.48M533.16 125.44V136.69M533.38 125.63V138.35M533.60 125.82V137.43M533.82 126.00V141.41M534.04 126.19V139.78M534.26 126.37V141.44M534.48 126.56V141.93M534.70 126.75V141.27M534.92 126.93V140.99M535.14 127.12V140.44M535.36 127.30V142.03M535.58 127.49V141.77M535.80 127.68V139.70M536.02 127.86V141.60M536.24 128.05V141.30M536.10 127.00V143.20" stroke="#000" stroke-opacity="0.8" stroke-width="0.42" fill="none"/>
<path d="M332.00 24.00L332.01 24.10L332.02 24.31L332.03 24.59L332.05 24.93L332.07 25.34L332.09 25.79L332.11 26.29L332.14 26.83L332.17 27.42L332.20 28.05L332.23 28.71L332.26 29.42L332.29 30.16L332.33 30.93L332.37 31.74L332.40 32.59L332.44 33.46L332.48 34.37L332.52 35.30L332.56 36.27L332.60 37.27L332.65 38.29L332.69 39.35L332.73 40.43L332.78 41.54L332.82 42.67L332.87 43.83L332.91 45.02L332.96 46.24L333.00 47.48L333.05 48.74L333.09 50.03L333.14 51.34L333.18 52.68L333.22 54.04L333.27 55.43L333.31 56.84L333.35 58.27L333.40 59.72L333.44 61.20L333.48 62.70L333.52 64.22L333.56 65.76L333.59 67.33L333.63 68.91L333.67 70.52L333.70 72.15L333.73 73.80L333.77 75.47L333.80 77.16L333.82 78.87L333.85 80.60L333.88 82.35L333.90 84.13L333.92 85.92L333.94 87.73L333.96 89.56L333.97 91.41L333.98 93.28L333.99 95.17L334.00 97.07L334.00 99.00L334.00 99.00L334.00 97.07L333.99 95.17L333.98 93.29L333.97 91.43L333.95 89.59L333.93 87.77L333.90 85.98L333.87 84.21L333.84 82.46L333.80 80.74L333.77 79.04L333.73 77.37L333.68 75.72L333.63 74.09L333.59 72.49L333.53 70.91L333.48 69.36L333.42 67.83L333.36 66.33L333.30 64.85L333.24 63.40L333.17 61.97L333.11 60.57L333.04 59.19L332.97 57.84L332.90 56.51L332.83 55.21L332.75 53.94L332.68 52.69L332.60 51.47L332.53 50.27L332.45 49.10L332.37 47.96L332.29 46.84L332.22 45.75L332.14 44.68L332.10 43.65L332.05 42.64L332.01 41.66L331.97 40.70L331.94 39.77L331.91 38.88L331.88 38.01L331.85 37.17L331.82 36.36L331.80 35.57L331.78 34.82L331.76 34.10L331.74 33.42L331.73 32.76L331.72 32.14L331.70 31.55L331.70 31.00L331.69 30.48L331.68 30.00L331.67 29.56L331.67 29.17L331.67 28.82L331.66 28.51L331.66 28.27L331.66 28.09L331.66 28.00ZM335.00 24.00L335.01 24.12L335.04 24.37L335.07 24.71L335.11 25.12L335.16 25.61L335.22 26.15L335.28 26.75L335.34 27.41L335.41 28.11L335.48 28.87L335.56 29.67L335.64 30.52L335.72 31.41L335.80 32.34L335.89 33.31L335.97 34.32L336.06 35.38L336.15 36.46L336.25 37.59L336.34 38.75L336.43 39.95L336.52 41.18L336.62 42.45L336.71 43.75L336.80 45.08L336.89 46.45L336.98 47.85L337.07 49.28L337.15 50.74L337.24 52.23L337.32 53.75L337.40 55.30L337.47 56.88L337.54 58.48L337.61 60.12L337.68 61.79L337.74 63.48L337.79 65.20L337.84 66.95L337.88 68.72L337.92 70.53L337.95 72.36L337.98 74.21L337.99 76.09L338.00 78.00L338.00 78.00L337.99 76.09L337.98 74.22L337.95 72.37L337.91 70.56L337.87 68.78L337.82 67.04L337.76 65.33L337.69 63.65L337.62 62.01L337.54 60.40L337.45 58.83L337.36 57.30L337.27 55.80L337.17 54.33L337.06 52.90L336.95 51.51L336.84 50.16L336.73 48.83L336.61 47.55L336.49 46.30L336.37 45.09L336.24 43.92L336.12 42.78L335.99 41.68L335.86 40.61L335.74 39.59L335.64 38.60L335.55 37.64L335.47 36.73L335.39 35.85L335.31 35.01L335.24 34.21L335.18 33.45L335.11 32.73L335.06 32.06L335.01 31.42L334.96 30.83L334.91 30.28L334.88 29.78L334.84 29.33L334.81 28.93L334.79 28.58L334.77 28.31L334.75 28.10L334.75 28.00ZM338.30 24.00L338.30 24.10L338.32 24.30L338.33 24.57L338.35 24.90L338.37 25.28L338.39 25.71L338.41 26.19L338.44 26.72L338.46 27.28L338.49 27.88L338.53 28.52L338.56 29.20L338.59 29.91L338.63 30.65L338.67 31.43L338.70 32.24L338.74 33.07L338.78 33.94L338.82 34.84L338.86 35.77L338.91 36.72L338.95 37.71L338.99 38.72L339.04 39.76L339.08 40.82L339.13 41.91L339.17 43.02L339.22 44.16L339.27 45.33L339.31 46.52L339.36 47.73L339.40 48.97L339.45 50.23L339.50 51.51L339.54 52.81L339.59 54.14L339.63 55.49L339.68 56.87L339.72 58.26L339.77 59.68L339.81 61.12L339.86 62.57L339.90 64.05L339.94 65.55L339.98 67.08L340.02 68.62L340.06 70.18L340.10 71.76L340.13 73.36L340.17 74.99L340.20 76.63L340.24 78.29L340.27 79.97L340.30 81.67L340.33 83.39L340.35 85.12L340.38 86.88L340.40 88.65L340.42 90.44L340.44 92.26L340.46 94.08L340.47 95.93L340.48 97.80L340.49 99.68L340.50 101.58L340.50 103.50L340.50 103.50L340.50 101.58L340.49 99.68L340.48 97.80L340.47 95.95L340.45 94.11L340.43 92.29L340.41 90.50L340.38 88.72L340.36 86.97L340.33 85.24L340.29 83.53L340.26 81.85L340.22 80.18L340.18 78.54L340.13 76.92L340.09 75.33L340.04 73.75L339.99 72.20L339.94 70.68L339.89 69.17L339.84 67.69L339.78 66.23L339.72 64.80L339.67 63.39L339.61 62.00L339.55 60.64L339.48 59.29L339.42 57.98L339.36 56.69L339.29 55.42L339.23 54.17L339.16 52.95L339.09 51.76L339.03 50.58L338.96 49.44L338.89 48.31L338.82 47.22L338.76 46.15L338.70 45.10L338.66 44.08L338.62 43.08L338.57 42.11L338.53 41.17L338.49 40.25L338.46 39.36L338.42 38.49L338.39 37.66L338.36 36.85L338.33 36.06L338.30 35.31L338.27 34.59L338.25 33.89L338.23 33.23L338.20 32.60L338.18 32.00L338.17 31.43L338.15 30.90L338.13 30.40L338.12 29.93L338.11 29.51L338.10 29.13L338.09 28.79L338.08 28.50L338.07 28.26L338.07 28.09L338.07 28.00ZM340.00 24.00L340.01 24.11L340.03 24.35L340.05 24.66L340.08 25.05L340.12 25.50L340.15 26.00L340.20 26.56L340.24 27.17L340.29 27.83L340.34 28.54L340.40 29.28L340.45 30.07L340.51 30.90L340.58 31.77L340.64 32.68L340.70 33.62L340.77 34.60L340.84 35.62L340.90 36.67L340.97 37.75L341.04 38.87L341.11 40.02L341.18 41.20L341.25 42.41L341.32 43.65L341.40 44.93L341.47 46.23L341.54 47.56L341.61 48.92L341.67 50.31L341.74 51.73L341.81 53.17L341.87 54.65L341.94 56.15L342.00 57.67L342.06 59.22L342.12 60.80L342.18 62.41L342.23 64.04L342.28 65.69L342.33 67.37L342.37 69.08L342.42 70.81L342.45 72.56L342.49 74.34L342.52 76.14L342.55 77.97L342.57 79.81L342.58 81.69L342.60 83.58L342.60 85.50L342.60 85.50L342.60 83.58L342.58 81.69L342.56 79.83L342.54 77.99L342.51 76.18L342.47 74.41L342.42 72.66L342.37 70.94L342.32 69.25L342.26 67.59L342.19 65.96L342.12 64.36L342.05 62.79L341.97 61.25L341.88 59.74L341.80 58.27L341.71 56.82L341.61 55.41L341.52 54.03L341.42 52.68L341.32 51.36L341.21 50.07L341.11 48.82L341.00 47.59L340.89 46.40L340.78 45.24L340.67 44.11L340.56 43.02L340.45 41.96L340.36 40.93L340.29 39.93L340.22 38.97L340.16 38.04L340.11 37.14L340.05 36.28L340.00 35.46L339.96 34.66L339.91 33.91L339.88 33.19L339.84 32.51L339.81 31.86L339.78 31.26L339.76 30.70L339.74 30.18L339.72 29.70L339.70 29.27L339.69 28.89L339.68 28.56L339.67 28.29L339.66 28.10L339.66 28.00ZM344.50 24.00L344.51 24.10L344.52 24.30L344.54 24.57L344.57 24.90L344.60 25.28L344.63 25.71L344.67 26.19L344.71 26.72L344.75 27.28L344.79 27.88L344.84 28.52L344.89 29.20L344.94 29.91L344.99 30.65L345.05 31.43L345.10 32.24L345.16 33.07L345.22 33.94L345.28 34.84L345.35 35.77L345.41 36.72L345.47 37.71L345.54 38.72L345.61 39.76L345.67 40.82L345.74 41.91L345.81 43.02L345.88 44.16L345.95 45.33L346.02 46.52L346.09 47.73L346.16 48.97L346.23 50.23L346.30 51.51L346.36 52.81L346.43 54.14L346.50 55.49L346.57 56.87L346.64 58.26L346.70 59.68L346.77 61.12L346.83 62.57L346.90 64.05L346.96 65.55L347.02 67.08L347.08 68.62L347.14 70.18L347.20 71.76L347.25 73.36L347.30 74.99L347.36 76.63L347.41 78.29L347.45 79.97L347.50 81.67L347.54 83.39L347.58 85.12L347.62 86.88L347.65 88.65L347.68 90.44L347.71 92.26L347.74 94.08L347.76 95.93L347.77 97.80L347.79 99.68L347.80 101.58L347.80 103.50L347.80 103.50L347.80 101.58L347.79 99.68L347.77 97.80L347.75 95.95L347.73 94.11L347.70 92.29L347.66 90.50L347.62 88.72L347.58 86.97L347.53 85.24L347.48 83.53L347.43 81.85L347.37 80.18L347.30 78.54L347.24 76.92L347.17 75.33L347.09 73.75L347.02 72.20L346.94 70.68L346.86 69.17L346.77 67.69L346.69 66.23L346.60 64.80L346.51 63.39L346.41 62.00L346.32 60.64L346.22 59.29L346.12 57.98L346.02 56.69L345.92 55.42L345.82 54.17L345.71 52.95L345.61 51.76L345.50 50.58L345.40 49.44L345.29 48.31L345.19 47.22L345.08 46.15L345.00 45.10L344.93 44.08L344.87 43.08L344.80 42.11L344.74 41.17L344.69 40.25L344.63 39.36L344.58 38.49L344.54 37.66L344.49 36.85L344.45 36.06L344.41 35.31L344.37 34.59L344.34 33.89L344.30 33.23L344.28 32.60L344.25 32.00L344.22 31.43L344.20 30.90L344.18 30.40L344.16 29.93L344.15 29.51L344.13 29.13L344.12 28.79L344.11 28.50L344.10 28.26L344.10 28.09L344.10 28.00ZM348.30 24.00L348.32 24.13L348.36 24.38L348.42 24.73L348.49 25.16L348.57 25.66L348.67 26.23L348.77 26.85L348.87 27.53L348.99 28.26L349.11 29.04L349.23 29.87L349.37 30.75L349.50 31.67L349.64 32.63L349.78 33.64L349.93 34.69L350.08 35.78L350.23 36.91L350.38 38.08L350.53 39.28L350.68 40.52L350.83 41.80L350.99 43.11L351.14 44.45L351.28 45.84L351.43 47.25L351.57 48.70L351.71 50.18L351.85 51.69L351.98 53.23L352.11 54.81L352.23 56.41L352.34 58.05L352.45 59.71L352.55 61.41L352.65 63.13L352.73 64.89L352.80 66.67L352.87 68.48L352.92 70.32L352.96 72.18L352.99 74.08L353.00 76.00L353.00 76.00L352.99 74.08L352.96 72.19L352.92 70.34L352.86 68.52L352.78 66.73L352.70 64.98L352.60 63.27L352.49 61.60L352.37 59.96L352.24 58.36L352.10 56.80L351.95 55.27L351.79 53.78L351.63 52.33L351.46 50.92L351.28 49.55L351.10 48.21L350.92 46.92L350.73 45.66L350.53 44.44L350.34 43.26L350.14 42.12L349.94 41.01L349.74 39.95L349.55 38.93L349.40 37.94L349.25 36.99L349.11 36.09L348.98 35.22L348.86 34.40L348.74 33.61L348.63 32.87L348.53 32.17L348.44 31.52L348.35 30.91L348.27 30.34L348.20 29.83L348.14 29.36L348.08 28.95L348.04 28.60L348.00 28.31L347.97 28.10L347.96 28.00ZM349.50 24.00L349.52 24.10L349.55 24.30L349.60 24.58L349.66 24.92L349.73 25.32L349.80 25.77L349.89 26.26L349.98 26.80L350.07 27.38L350.18 28.00L350.28 28.66L350.40 29.35L350.52 30.08L350.64 30.85L350.77 31.65L350.90 32.48L351.03 33.35L351.17 34.24L351.31 35.17L351.45 36.12L351.60 37.10L351.75 38.12L351.90 39.16L352.05 40.23L352.20 41.32L352.35 42.44L352.51 43.59L352.67 44.76L352.82 45.96L352.98 47.19L353.14 48.44L353.29 49.71L353.45 51.01L353.60 52.33L353.76 53.67L353.91 55.04L354.06 56.43L354.21 57.85L354.36 59.28L354.51 60.74L354.65 62.22L354.79 63.73L354.93 65.25L355.07 66.79L355.20 68.36L355.32 69.95L355.45 71.56L355.57 73.19L355.68 74.84L355.79 76.51L355.90 78.20L355.99 79.91L356.09 81.64L356.17 83.39L356.25 85.16L356.33 86.95L356.39 88.75L356.45 90.58L356.50 92.43L356.54 94.29L356.57 96.18L356.59 98.08L356.60 100.00L356.60 100.00L356.59 98.08L356.57 96.18L356.54 94.30L356.49 92.44L356.44 90.61L356.37 88.80L356.30 87.00L356.22 85.24L356.12 83.49L356.02 81.77L355.91 80.07L355.80 78.40L355.67 76.75L355.54 75.12L355.41 73.52L355.26 71.94L355.11 70.38L354.96 68.85L354.80 67.34L354.63 65.86L354.46 64.40L354.29 62.97L354.11 61.56L353.93 60.18L353.74 58.82L353.55 57.49L353.36 56.18L353.16 54.89L352.97 53.64L352.77 52.40L352.57 51.20L352.37 50.01L352.16 48.86L351.96 47.73L351.76 46.62L351.55 45.55L351.37 44.50L351.22 43.47L351.07 42.47L350.92 41.50L350.78 40.56L350.64 39.64L350.51 38.76L350.39 37.90L350.26 37.07L350.15 36.26L350.04 35.49L349.93 34.75L349.83 34.04L349.73 33.36L349.64 32.71L349.56 32.09L349.48 31.51L349.40 30.96L349.33 30.45L349.27 29.98L349.21 29.55L349.16 29.15L349.11 28.81L349.08 28.51L349.05 28.27L349.02 28.09L349.01 28.00ZM353.00 24.00L353.01 24.08L353.02 24.25L353.05 24.48L353.07 24.75L353.10 25.08L353.14 25.44L353.18 25.85L353.22 26.29L353.27 26.76L353.32 27.27L353.37 27.81L353.42 28.37L353.48 28.97L353.53 29.60L353.60 30.25L353.66 30.93L353.72 31.64L353.79 32.37L353.86 33.12L353.93 33.90L354.00 34.71L354.07 35.53L354.15 36.39L354.23 37.26L354.30 38.15L354.38 39.07L354.46 40.01L354.54 40.97L354.63 41.95L354.71 42.95L354.79 43.97L354.88 45.01L354.96 46.07L355.05 47.15L355.14 48.25L355.22 49.36L355.31 50.50L355.40 51.66L355.49 52.83L355.58 54.02L355.66 55.23L355.75 56.46L355.84 57.70L355.93 58.97L356.02 60.25L356.11 61.54L356.19 62.86L356.28 64.19L356.37 65.54L356.46 66.90L356.54 68.28L356.63 69.68L356.71 71.10L356.80 72.52L356.88 73.97L356.96 75.43L357.04 76.91L357.12 78.40L357.20 79.91L357.28 81.43L357.35 82.97L357.43 84.53L357.50 86.10L357.58 87.68L357.65 89.28L357.71 90.90L357.78 92.53L357.85 94.17L357.91 95.83L357.97 97.50L358.03 99.19L358.09 100.89L358.14 102.60L358.19 104.33L358.24 106.08L358.29 107.84L358.33 109.61L358.38 111.39L358.41 113.19L358.45 115.01L358.48 116.83L358.51 118.68L358.54 120.53L358.56 122.40L358.57 124.28L358.59 126.17L358.60 128.08L358.60 130.00L358.60 130.00L358.60 128.08L358.59 126.17L358.57 124.28L358.55 122.40L358.53 120.54L358.50 118.69L358.47 116.86L358.43 115.04L358.39 113.24L358.35 111.46L358.30 109.69L358.25 107.93L358.20 106.19L358.14 104.47L358.08 102.76L358.01 101.07L357.94 99.39L357.87 97.73L357.80 96.09L357.72 94.47L357.64 92.86L357.56 91.26L357.48 89.68L357.39 88.12L357.30 86.58L357.21 85.05L357.11 83.54L357.02 82.05L356.92 80.57L356.82 79.11L356.72 77.67L356.62 76.24L356.51 74.84L356.40 73.45L356.30 72.07L356.19 70.72L356.08 69.38L355.97 68.05L355.85 66.75L355.74 65.46L355.63 64.20L355.51 62.95L355.40 61.71L355.28 60.50L355.16 59.30L355.05 58.12L354.93 56.96L354.81 55.82L354.69 54.70L354.58 53.59L354.46 52.51L354.37 51.44L354.28 50.39L354.20 49.36L354.11 48.35L354.03 47.36L353.95 46.39L353.88 45.44L353.80 44.51L353.73 43.60L353.66 42.71L353.59 41.84L353.52 40.99L353.46 40.16L353.39 39.35L353.33 38.57L353.27 37.81L353.22 37.06L353.16 36.35L353.11 35.65L353.06 34.98L353.01 34.33L352.97 33.71L352.93 33.11L352.88 32.54L352.85 31.99L352.81 31.47L352.78 30.98L352.74 30.51L352.71 30.08L352.69 29.68L352.66 29.31L352.64 28.98L352.62 28.69L352.60 28.43L352.59 28.23L352.58 28.07L352.57 28.00ZM358.6 24.5L361.2 24.8L362.6 34L363.7 48.5L362.4 42L360.4 35L358.7 33.5ZM363.3 24.8L369.0 25.6L370.2 37L370.9 52.5L369.6 47L367.6 40.5L365.6 33ZM371.00 27.50L371.04 27.68L371.13 28.04L371.25 28.53L371.39 29.13L371.55 29.82L371.72 30.61L371.91 31.48L372.11 32.43L372.32 33.45L372.54 34.54L372.76 35.70L372.98 36.93L373.20 38.21L373.42 39.56L373.64 40.97L373.85 42.43L374.05 43.96L374.24 45.53L374.41 47.16L374.57 48.84L374.71 50.58L374.82 52.36L374.91 54.19L374.98 56.07L375.00 58.00L375.00 58.00L374.87 56.26L374.71 54.57L374.53 52.91L374.32 51.31L374.09 49.74L373.84 48.23L373.58 46.76L373.31 45.34L373.03 43.97L372.75 42.64L372.46 41.38L372.17 40.16L371.88 39.00L371.59 37.89L371.38 36.85L371.25 35.86L371.13 34.94L371.02 34.09L370.92 33.30L370.84 32.59L370.76 31.97L370.70 31.42L370.65 30.98L370.62 30.66L370.60 30.50ZM385.70 37.00L385.72 37.12L385.77 37.37L385.83 37.71L385.91 38.12L386.00 38.61L386.10 39.15L386.21 39.75L386.33 40.41L386.45 41.12L386.58 41.87L386.72 42.68L386.87 43.52L387.02 44.41L387.17 45.35L387.33 46.32L387.49 47.34L387.66 48.39L387.82 49.48L387.99 50.61L388.17 51.77L388.34 52.97L388.51 54.20L388.68 55.47L388.85 56.77L389.02 58.11L389.19 59.48L389.36 60.88L389.53 62.31L389.69 63.77L389.85 65.26L390.00 66.78L390.15 68.33L390.29 69.92L390.43 71.53L390.56 73.16L390.69 74.83L390.81 76.53L390.92 78.25L391.02 80.00L391.11 81.78L391.19 83.58L391.26 85.41L391.32 87.27L391.36 89.16L391.39 91.06L391.40 93.00L391.40 93.00L391.30 91.19L391.18 89.40L391.05 87.63L390.91 85.89L390.75 84.17L390.59 82.48L390.41 80.81L390.23 79.17L390.04 77.56L389.85 75.97L389.64 74.40L389.44 72.87L389.22 71.36L389.00 69.88L388.78 68.42L388.56 66.99L388.33 65.59L388.10 64.22L387.87 62.88L387.64 61.57L387.40 60.29L387.17 59.04L386.94 57.82L386.71 56.63L386.48 55.47L386.25 54.35L386.07 53.26L385.97 52.20L385.88 51.18L385.79 50.19L385.71 49.24L385.63 48.33L385.56 47.45L385.49 46.62L385.43 45.82L385.37 45.07L385.32 44.36L385.27 43.70L385.22 43.08L385.19 42.52L385.15 42.01L385.12 41.55L385.09 41.17L385.07 40.85L385.06 40.61L385.05 40.50ZM403.30 45.00L403.35 45.11L403.45 45.34L403.59 45.65L403.76 46.04L403.95 46.48L404.17 46.98L404.41 47.54L404.66 48.14L404.94 48.79L405.23 49.49L405.54 50.23L405.86 51.01L406.19 51.83L406.53 52.69L406.89 53.59L407.25 54.52L407.63 55.49L408.01 56.49L408.39 57.53L408.78 58.61L409.18 59.71L409.58 60.85L409.99 62.01L410.39 63.21L410.80 64.44L411.21 65.70L411.61 66.99L412.02 68.31L412.42 69.65L412.82 71.03L413.21 72.43L413.60 73.86L413.99 75.32L414.36 76.80L414.73 78.31L415.09 79.85L415.44 81.41L415.78 82.99L416.11 84.61L416.43 86.24L416.73 87.91L417.02 89.59L417.29 91.30L417.54 93.04L417.78 94.80L417.99 96.58L418.18 98.39L418.36 100.21L418.50 102.07L418.62 103.94L418.72 105.84L418.78 107.76L418.80 109.70L418.80 109.70L418.30 108.31L418.00 106.67L417.71 104.99L417.42 103.31L417.12 101.64L416.81 99.97L416.49 98.31L416.16 96.66L415.81 95.03L415.45 93.42L415.08 91.82L414.70 90.25L414.31 88.69L413.90 87.16L413.49 85.64L413.07 84.15L412.64 82.67L412.21 81.23L411.77 79.80L411.32 78.40L410.87 77.02L410.41 75.66L409.95 74.33L409.49 73.03L409.03 71.75L408.57 70.50L408.11 69.27L407.65 68.07L407.19 66.90L406.74 65.76L406.34 64.65L406.07 63.56L405.80 62.51L405.54 61.49L405.29 60.50L405.04 59.54L404.80 58.61L404.57 57.72L404.34 56.86L404.12 56.04L403.91 55.25L403.71 54.51L403.52 53.80L403.34 53.13L403.17 52.51L403.01 51.93L402.86 51.40L402.72 50.92L402.60 50.49L402.50 50.13L402.42 49.83L402.36 49.61L402.32 49.50ZM430.30 53.40L430.35 53.56L430.44 53.87L430.57 54.31L430.73 54.84L430.91 55.45L431.10 56.15L431.32 56.92L431.55 57.76L431.79 58.66L432.04 59.62L432.30 60.65L432.57 61.73L432.84 62.87L433.11 64.06L433.39 65.31L433.66 66.60L433.93 67.95L434.19 69.34L434.45 70.78L434.70 72.27L434.94 73.80L435.16 75.38L435.37 77.00L435.56 78.66L435.74 80.37L435.89 82.11L436.01 83.90L436.11 85.73L436.17 87.59L436.20 89.50L436.20 89.50L435.65 88.03L435.23 86.46L434.83 84.89L434.43 83.33L434.02 81.79L433.62 80.28L433.20 78.80L432.79 77.36L432.37 75.94L431.94 74.57L431.52 73.23L431.09 71.93L430.67 70.67L430.25 69.45L429.83 68.27L429.42 67.14L429.02 66.06L428.85 65.02L428.84 64.03L428.85 63.10L428.86 62.21L428.88 61.39L428.91 60.62L428.94 59.92L428.97 59.28L429.01 58.72L429.04 58.23L429.07 57.83L429.09 57.54L429.10 57.40ZM468.60 77.80L468.69 77.99L468.87 78.39L469.12 78.93L469.41 79.59L469.75 80.36L470.11 81.23L470.50 82.19L470.91 83.23L471.34 84.36L471.77 85.56L472.21 86.84L472.64 88.19L473.07 89.61L473.48 91.09L473.87 92.65L474.24 94.26L474.57 95.94L474.87 97.68L475.12 99.47L475.31 101.32L475.45 103.23L475.50 105.20L475.50 105.20L474.74 103.90L474.17 102.39L473.61 100.88L473.05 99.37L472.47 97.90L471.87 96.47L471.27 95.08L470.65 93.73L470.04 92.44L469.42 91.20L468.81 90.01L468.21 88.89L467.74 87.82L467.66 86.83L467.59 85.90L467.55 85.05L467.52 84.28L467.50 83.60L467.48 83.01L467.48 82.53L467.48 82.17L467.48 82.00ZM494.00 94.20L494.08 94.41L494.23 94.85L494.43 95.44L494.68 96.17L494.95 97.01L495.25 97.96L495.57 99.02L495.90 100.16L496.24 101.40L496.57 102.72L496.91 104.13L497.22 105.61L497.53 107.17L497.81 108.80L498.06 110.50L498.27 112.28L498.44 114.12L498.55 116.03L498.60 118.00L498.60 118.00L497.85 116.76L497.32 115.30L496.80 113.83L496.28 112.38L495.75 110.96L495.22 109.59L494.69 108.27L494.16 107.01L493.64 105.80L493.13 104.66L492.63 103.60L492.65 102.60L492.69 101.69L492.74 100.86L492.80 100.12L492.87 99.49L492.93 98.97L492.98 98.59L493.00 98.40ZM501.00 98.50L501.10 98.72L501.31 99.15L501.58 99.75L501.89 100.48L502.22 101.33L502.57 102.29L502.91 103.35L503.24 104.51L503.53 105.76L503.76 107.09L503.93 108.51L504.00 110.00L504.00 110.00L503.74 108.90L503.38 107.85L502.97 106.86L502.52 105.94L502.05 105.09L501.56 104.30L501.10 103.59L500.93 102.97L500.81 102.42L500.71 101.98L500.65 101.66L500.62 101.50ZM504.50 101.00L504.62 101.28L504.86 101.85L505.17 102.63L505.53 103.59L505.93 104.70L506.33 105.95L506.73 107.33L507.11 108.84L507.45 110.47L507.72 112.20L507.92 114.05L508.00 116.00L508.00 116.00L507.60 114.61L507.14 113.22L506.63 111.89L506.08 110.64L505.51 109.47L504.94 108.39L504.39 107.41L504.24 106.54L504.13 105.79L504.06 105.17L504.02 104.72L504.00 104.50ZM508.50 104.50L508.65 104.74L508.94 105.24L509.33 105.91L509.79 106.73L510.30 107.69L510.85 108.77L511.41 109.96L511.97 111.27L512.52 112.67L513.05 114.17L513.53 115.76L513.94 117.45L514.28 119.21L514.51 121.07L514.60 123.00L514.60 123.00L514.01 121.72L513.43 120.34L512.80 118.97L512.11 117.65L511.39 116.38L510.64 115.18L509.89 114.05L509.14 112.99L508.55 112.01L508.32 111.13L508.13 110.34L507.98 109.66L507.87 109.11L507.79 108.70L507.75 108.50Z" fill="#000" fill-opacity="0.88"/>
<path d="M332.00 24.00L332.01 24.10L332.02 24.31L332.03 24.59L332.05 24.93L332.07 25.34L332.09 25.79L332.11 26.29L332.14 26.83L332.17 27.42L332.20 28.05L332.23 28.71L332.26 29.42L332.29 30.16L332.33 30.93L332.37 31.74L332.40 32.59L332.44 33.46L332.48 34.37L332.52 35.30L332.56 36.27L332.60 37.27L332.65 38.29L332.69 39.35L332.73 40.43L332.78 41.54L332.82 42.67L332.87 43.83L332.91 45.02L332.96 46.24L333.00 47.48L333.05 48.74L333.09 50.03L333.14 51.34L333.18 52.68L333.22 54.04L333.27 55.43L333.31 56.84L333.35 58.27L333.40 59.72L333.44 61.20L333.48 62.70L333.52 64.22L333.56 65.76L333.59 67.33L333.63 68.91L333.67 70.52L333.70 72.15L333.73 73.80L333.77 75.47L333.80 77.16L333.82 78.87L333.85 80.60L333.88 82.35L333.90 84.13L333.92 85.92L333.94 87.73L333.96 89.56L333.97 91.41L333.98 93.28L333.99 95.17L334.00 97.07L334.00 99.00M335.00 24.00L335.01 24.12L335.04 24.37L335.07 24.71L335.11 25.12L335.16 25.61L335.22 26.15L335.28 26.75L335.34 27.41L335.41 28.11L335.48 28.87L335.56 29.67L335.64 30.52L335.72 31.41L335.80 32.34L335.89 33.31L335.97 34.32L336.06 35.38L336.15 36.46L336.25 37.59L336.34 38.75L336.43 39.95L336.52 41.18L336.62 42.45L336.71 43.75L336.80 45.08L336.89 46.45L336.98 47.85L337.07 49.28L337.15 50.74L337.24 52.23L337.32 53.75L337.40 55.30L337.47 56.88L337.54 58.48L337.61 60.12L337.68 61.79L337.74 63.48L337.79 65.20L337.84 66.95L337.88 68.72L337.92 70.53L337.95 72.36L337.98 74.21L337.99 76.09L338.00 78.00M338.30 24.00L338.30 24.10L338.32 24.30L338.33 24.57L338.35 24.90L338.37 25.28L338.39 25.71L338.41 26.19L338.44 26.72L338.46 27.28L338.49 27.88L338.53 28.52L338.56 29.20L338.59 29.91L338.63 30.65L338.67 31.43L338.70 32.24L338.74 33.07L338.78 33.94L338.82 34.84L338.86 35.77L338.91 36.72L338.95 37.71L338.99 38.72L339.04 39.76L339.08 40.82L339.13 41.91L339.17 43.02L339.22 44.16L339.27 45.33L339.31 46.52L339.36 47.73L339.40 48.97L339.45 50.23L339.50 51.51L339.54 52.81L339.59 54.14L339.63 55.49L339.68 56.87L339.72 58.26L339.77 59.68L339.81 61.12L339.86 62.57L339.90 64.05L339.94 65.55L339.98 67.08L340.02 68.62L340.06 70.18L340.10 71.76L340.13 73.36L340.17 74.99L340.20 76.63L340.24 78.29L340.27 79.97L340.30 81.67L340.33 83.39L340.35 85.12L340.38 86.88L340.40 88.65L340.42 90.44L340.44 92.26L340.46 94.08L340.47 95.93L340.48 97.80L340.49 99.68L340.50 101.58L340.50 103.50M340.00 24.00L340.01 24.11L340.03 24.35L340.05 24.66L340.08 25.05L340.12 25.50L340.15 26.00L340.20 26.56L340.24 27.17L340.29 27.83L340.34 28.54L340.40 29.28L340.45 30.07L340.51 30.90L340.58 31.77L340.64 32.68L340.70 33.62L340.77 34.60L340.84 35.62L340.90 36.67L340.97 37.75L341.04 38.87L341.11 40.02L341.18 41.20L341.25 42.41L341.32 43.65L341.40 44.93L341.47 46.23L341.54 47.56L341.61 48.92L341.67 50.31L341.74 51.73L341.81 53.17L341.87 54.65L341.94 56.15L342.00 57.67L342.06 59.22L342.12 60.80L342.18 62.41L342.23 64.04L342.28 65.69L342.33 67.37L342.37 69.08L342.42 70.81L342.45 72.56L342.49 74.34L342.52 76.14L342.55 77.97L342.57 79.81L342.58 81.69L342.60 83.58L342.60 85.50M344.50 24.00L344.51 24.10L344.52 24.30L344.54 24.57L344.57 24.90L344.60 25.28L344.63 25.71L344.67 26.19L344.71 26.72L344.75 27.28L344.79 27.88L344.84 28.52L344.89 29.20L344.94 29.91L344.99 30.65L345.05 31.43L345.10 32.24L345.16 33.07L345.22 33.94L345.28 34.84L345.35 35.77L345.41 36.72L345.47 37.71L345.54 38.72L345.61 39.76L345.67 40.82L345.74 41.91L345.81 43.02L345.88 44.16L345.95 45.33L346.02 46.52L346.09 47.73L346.16 48.97L346.23 50.23L346.30 51.51L346.36 52.81L346.43 54.14L346.50 55.49L346.57 56.87L346.64 58.26L346.70 59.68L346.77 61.12L346.83 62.57L346.90 64.05L346.96 65.55L347.02 67.08L347.08 68.62L347.14 70.18L347.20 71.76L347.25 73.36L347.30 74.99L347.36 76.63L347.41 78.29L347.45 79.97L347.50 81.67L347.54 83.39L347.58 85.12L347.62 86.88L347.65 88.65L347.68 90.44L347.71 92.26L347.74 94.08L347.76 95.93L347.77 97.80L347.79 99.68L347.80 101.58L347.80 103.50M348.30 24.00L348.32 24.13L348.36 24.38L348.42 24.73L348.49 25.16L348.57 25.66L348.67 26.23L348.77 26.85L348.87 27.53L348.99 28.26L349.11 29.04L349.23 29.87L349.37 30.75L349.50 31.67L349.64 32.63L349.78 33.64L349.93 34.69L350.08 35.78L350.23 36.91L350.38 38.08L350.53 39.28L350.68 40.52L350.83 41.80L350.99 43.11L351.14 44.45L351.28 45.84L351.43 47.25L351.57 48.70L351.71 50.18L351.85 51.69L351.98 53.23L352.11 54.81L352.23 56.41L352.34 58.05L352.45 59.71L352.55 61.41L352.65 63.13L352.73 64.89L352.80 66.67L352.87 68.48L352.92 70.32L352.96 72.18L352.99 74.08L353.00 76.00M349.50 24.00L349.52 24.10L349.55 24.30L349.60 24.58L349.66 24.92L349.73 25.32L349.80 25.77L349.89 26.26L349.98 26.80L350.07 27.38L350.18 28.00L350.28 28.66L350.40 29.35L350.52 30.08L350.64 30.85L350.77 31.65L350.90 32.48L351.03 33.35L351.17 34.24L351.31 35.17L351.45 36.12L351.60 37.10L351.75 38.12L351.90 39.16L352.05 40.23L352.20 41.32L352.35 42.44L352.51 43.59L352.67 44.76L352.82 45.96L352.98 47.19L353.14 48.44L353.29 49.71L353.45 51.01L353.60 52.33L353.76 53.67L353.91 55.04L354.06 56.43L354.21 57.85L354.36 59.28L354.51 60.74L354.65 62.22L354.79 63.73L354.93 65.25L355.07 66.79L355.20 68.36L355.32 69.95L355.45 71.56L355.57 73.19L355.68 74.84L355.79 76.51L355.90 78.20L355.99 79.91L356.09 81.64L356.17 83.39L356.25 85.16L356.33 86.95L356.39 88.75L356.45 90.58L356.50 92.43L356.54 94.29L356.57 96.18L356.59 98.08L356.60 100.00M353.00 24.00L353.01 24.08L353.02 24.25L353.05 24.48L353.07 24.75L353.10 25.08L353.14 25.44L353.18 25.85L353.22 26.29L353.27 26.76L353.32 27.27L353.37 27.81L353.42 28.37L353.48 28.97L353.53 29.60L353.60 30.25L353.66 30.93L353.72 31.64L353.79 32.37L353.86 33.12L353.93 33.90L354.00 34.71L354.07 35.53L354.15 36.39L354.23 37.26L354.30 38.15L354.38 39.07L354.46 40.01L354.54 40.97L354.63 41.95L354.71 42.95L354.79 43.97L354.88 45.01L354.96 46.07L355.05 47.15L355.14 48.25L355.22 49.36L355.31 50.50L355.40 51.66L355.49 52.83L355.58 54.02L355.66 55.23L355.75 56.46L355.84 57.70L355.93 58.97L356.02 60.25L356.11 61.54L356.19 62.86L356.28 64.19L356.37 65.54L356.46 66.90L356.54 68.28L356.63 69.68L356.71 71.10L356.80 72.52L356.88 73.97L356.96 75.43L357.04 76.91L357.12 78.40L357.20 79.91L357.28 81.43L357.35 82.97L357.43 84.53L357.50 86.10L357.58 87.68L357.65 89.28L357.71 90.90L357.78 92.53L357.85 94.17L357.91 95.83L357.97 97.50L358.03 99.19L358.09 100.89L358.14 102.60L358.19 104.33L358.24 106.08L358.29 107.84L358.33 109.61L358.38 111.39L358.41 113.19L358.45 115.01L358.48 116.83L358.51 118.68L358.54 120.53L358.56 122.40L358.57 124.28L358.59 126.17L358.60 128.08L358.60 130.00M371.00 27.50L371.04 27.68L371.13 28.04L371.25 28.53L371.39 29.13L371.55 29.82L371.72 30.61L371.91 31.48L372.11 32.43L372.32 33.45L372.54 34.54L372.76 35.70L372.98 36.93L373.20 38.21L373.42 39.56L373.64 40.97L373.85 42.43L374.05 43.96L374.24 45.53L374.41 47.16L374.57 48.84L374.71 50.58L374.82 52.36L374.91 54.19L374.98 56.07L375.00 58.00M385.70 37.00L385.72 37.12L385.77 37.37L385.83 37.71L385.91 38.12L386.00 38.61L386.10 39.15L386.21 39.75L386.33 40.41L386.45 41.12L386.58 41.87L386.72 42.68L386.87 43.52L387.02 44.41L387.17 45.35L387.33 46.32L387.49 47.34L387.66 48.39L387.82 49.48L387.99 50.61L388.17 51.77L388.34 52.97L388.51 54.20L388.68 55.47L388.85 56.77L389.02 58.11L389.19 59.48L389.36 60.88L389.53 62.31L389.69 63.77L389.85 65.26L390.00 66.78L390.15 68.33L390.29 69.92L390.43 71.53L390.56 73.16L390.69 74.83L390.81 76.53L390.92 78.25L391.02 80.00L391.11 81.78L391.19 83.58L391.26 85.41L391.32 87.27L391.36 89.16L391.39 91.06L391.40 93.00M403.30 45.00L403.35 45.11L403.45 45.34L403.59 45.65L403.76 46.04L403.95 46.48L404.17 46.98L404.41 47.54L404.66 48.14L404.94 48.79L405.23 49.49L405.54 50.23L405.86 51.01L406.19 51.83L406.53 52.69L406.89 53.59L407.25 54.52L407.63 55.49L408.01 56.49L408.39 57.53L408.78 58.61L409.18 59.71L409.58 60.85L409.99 62.01L410.39 63.21L410.80 64.44L411.21 65.70L411.61 66.99L412.02 68.31L412.42 69.65L412.82 71.03L413.21 72.43L413.60 73.86L413.99 75.32L414.36 76.80L414.73 78.31L415.09 79.85L415.44 81.41L415.78 82.99L416.11 84.61L416.43 86.24L416.73 87.91L417.02 89.59L417.29 91.30L417.54 93.04L417.78 94.80L417.99 96.58L418.18 98.39L418.36 100.21L418.50 102.07L418.62 103.94L418.72 105.84L418.78 107.76L418.80 109.70M430.30 53.40L430.35 53.56L430.44 53.87L430.57 54.31L430.73 54.84L430.91 55.45L431.10 56.15L431.32 56.92L431.55 57.76L431.79 58.66L432.04 59.62L432.30 60.65L432.57 61.73L432.84 62.87L433.11 64.06L433.39 65.31L433.66 66.60L433.93 67.95L434.19 69.34L434.45 70.78L434.70 72.27L434.94 73.80L435.16 75.38L435.37 77.00L435.56 78.66L435.74 80.37L435.89 82.11L436.01 83.90L436.11 85.73L436.17 87.59L436.20 89.50M468.60 77.80L468.69 77.99L468.87 78.39L469.12 78.93L469.41 79.59L469.75 80.36L470.11 81.23L470.50 82.19L470.91 83.23L471.34 84.36L471.77 85.56L472.21 86.84L472.64 88.19L473.07 89.61L473.48 91.09L473.87 92.65L474.24 94.26L474.57 95.94L474.87 97.68L475.12 99.47L475.31 101.32L475.45 103.23L475.50 105.20M494.00 94.20L494.08 94.41L494.23 94.85L494.43 95.44L494.68 96.17L494.95 97.01L495.25 97.96L495.57 99.02L495.90 100.16L496.24 101.40L496.57 102.72L496.91 104.13L497.22 105.61L497.53 107.17L497.81 108.80L498.06 110.50L498.27 112.28L498.44 114.12L498.55 116.03L498.60 118.00M501.00 98.50L501.10 98.72L501.31 99.15L501.58 99.75L501.89 100.48L502.22 101.33L502.57 102.29L502.91 103.35L503.24 104.51L503.53 105.76L503.76 107.09L503.93 108.51L504.00 110.00M504.50 101.00L504.62 101.28L504.86 101.85L505.17 102.63L505.53 103.59L505.93 104.70L506.33 105.95L506.73 107.33L507.11 108.84L507.45 110.47L507.72 112.20L507.92 114.05L508.00 116.00M508.50 104.50L508.65 104.74L508.94 105.24L509.33 105.91L509.79 106.73L510.30 107.69L510.85 108.77L511.41 109.96L511.97 111.27L512.52 112.67L513.05 114.17L513.53 115.76L513.94 117.45L514.28 119.21L514.51 121.07L514.60 123.00" stroke="#000" stroke-opacity="0.6" stroke-width="0.55" fill="none"/>
<path d="M314.60 22.00L332.00 22.80L332.00 26.40L314.60 26.80ZM332.00 22.80L358.60 24.20L358.60 25.00L332.00 24.40ZM370.70 26.00L385.80 37.20L385.80 41.10L370.70 29.90ZM392.00 36.60L403.30 44.70L403.30 48.70L392.00 40.60ZM420.10 45.00L430.30 53.00L430.30 57.00L420.10 49.00ZM435.90 53.60L468.60 78.00L468.60 82.30L435.90 57.90ZM475.40 79.00L494.00 94.30L494.00 98.30L475.40 83.00ZM498.60 95.00L514.90 108.40L514.90 112.60L498.60 99.20ZM514.9 108.0L536.3 126.1L536.3 138.0L514.9 116.5Z" fill="#000"/>
<path d="M352.00 24.60H371.00M385.80 35.20H392.00M403.30 44.60H420.10M420.00 44.60V54.50M414.20 70.00H419.30M419.30 70.00V92.50M415.20 75.70H419.30M416.20 80.80H419.30M416.80 86.00H419.30M430.30 53.20H435.90M468.60 77.90H475.40M494.00 94.30H498.60" stroke="#444" stroke-width="0.5" fill="none"/>
<rect x="392.0" y="174.8" width="144.80" height="21.90" fill="#06dfcf"/>
<rect x="475.3" y="152.6" width="61.50" height="44.10" fill="#06dfcf"/>
<rect x="315.10" y="152.6" width="6.90" height="44.10" fill="#bebebe"/>
<rect x="321.40" y="152.6" width="1.80" height="44.10" fill="#d2b4aa"/>
<rect x="322.60" y="152.6" width="2.50" height="44.10" fill="#bebebe"/>
<rect x="324.50" y="152.6" width="1.90" height="44.10" fill="#8f9c78"/>
<rect x="325.80" y="152.6" width="2.50" height="44.10" fill="#b9aa92"/>
<rect x="327.70" y="152.6" width="2.10" height="22.20" fill="#6a94a4"/>
<rect x="327.70" y="174.8" width="2.10" height="21.90" fill="#e070e0"/>
<rect x="329.20" y="152.6" width="2.40" height="44.10" fill="#94b2a4"/>
<rect x="331.00" y="152.6" width="1.90" height="22.20" fill="#44a4a4"/>
<rect x="331.00" y="174.8" width="1.90" height="21.90" fill="#30c4b4"/>
<rect x="332.30" y="152.6" width="1.80" height="44.10" fill="#d2a494"/>
<rect x="333.50" y="152.6" width="2.10" height="22.20" fill="#8494b4"/>
<rect x="333.50" y="174.8" width="2.10" height="21.90" fill="#44b4b4"/>
<rect x="335.00" y="152.6" width="1.70" height="44.10" fill="#323272"/>
<rect x="336.10" y="152.6" width="1.80" height="22.20" fill="#c08494"/>
<rect x="336.10" y="174.8" width="1.80" height="21.90" fill="#b474a4"/>
<rect x="337.30" y="152.6" width="2.10" height="22.20" fill="#6444a4"/>
<rect x="337.30" y="174.8" width="2.10" height="21.90" fill="#7454b4"/>
<rect x="338.80" y="152.6" width="1.80" height="22.20" fill="#1030e0"/>
<rect x="338.80" y="174.8" width="1.80" height="21.90" fill="#20d0b0"/>
<rect x="340.00" y="152.6" width="2.30" height="22.20" fill="#44c0b0"/>
<rect x="340.00" y="174.8" width="2.30" height="21.90" fill="#28ccb0"/>
<rect x="341.70" y="152.6" width="1.90" height="22.20" fill="#c0a484"/>
<rect x="341.70" y="174.8" width="1.90" height="21.90" fill="#50c8a8"/>
<rect x="343.00" y="152.6" width="1.90" height="22.20" fill="#6464c4"/>
<rect x="343.00" y="174.8" width="1.90" height="21.90" fill="#6a64c0"/>
<rect x="344.30" y="152.6" width="3.10" height="22.20" fill="#d414f0"/>
<rect x="344.30" y="174.8" width="3.10" height="21.90" fill="#e010f0"/>
<rect x="346.80" y="152.6" width="2.10" height="44.10" fill="#c4f020"/>
<rect x="348.30" y="152.6" width="11.00" height="44.10" fill="#ffff00"/>
<rect x="358.70" y="152.6" width="1.90" height="44.10" fill="#148464"/>
<rect x="360.00" y="152.6" width="2.80" height="44.10" fill="#00d832"/>
<rect x="362.20" y="152.6" width="1.90" height="44.10" fill="#206472"/>
<rect x="363.50" y="152.6" width="1.80" height="44.10" fill="#c46472"/>
<rect x="364.70" y="152.6" width="2.80" height="22.20" fill="#548c8c"/>
<rect x="364.70" y="174.8" width="2.80" height="21.90" fill="#4c9c94"/>
<rect x="366.90" y="152.6" width="4.80" height="44.10" fill="#ff00ff"/>
<rect x="371.10" y="152.6" width="2.50" height="22.20" fill="#346494"/>
<rect x="371.10" y="174.8" width="2.50" height="21.90" fill="#30a0a0"/>
<rect x="373.00" y="152.6" width="2.10" height="22.20" fill="#c45472"/>
<rect x="373.00" y="174.8" width="2.10" height="21.90" fill="#b06a7a"/>
<rect x="374.50" y="152.6" width="1.50" height="22.20" fill="#3c6cb8"/>
<rect x="374.50" y="174.8" width="1.50" height="21.90" fill="#28c0b4"/>
<rect x="375.40" y="152.6" width="2.20" height="22.20" fill="#2050d8"/>
<rect x="375.40" y="174.8" width="2.20" height="21.90" fill="#10d0c0"/>
<rect x="377.00" y="152.6" width="1.60" height="22.20" fill="#3880d8"/>
<rect x="377.00" y="174.8" width="1.60" height="21.90" fill="#18c8b8"/>
<rect x="378.00" y="152.6" width="2.60" height="22.20" fill="#1038e8"/>
<rect x="378.00" y="174.8" width="2.60" height="21.90" fill="#08d8c8"/>
<rect x="380.00" y="152.6" width="1.60" height="22.20" fill="#2870e0"/>
<rect x="380.00" y="174.8" width="1.60" height="21.90" fill="#10c8b8"/>
<rect x="381.00" y="152.6" width="2.60" height="22.20" fill="#1040e8"/>
<rect x="381.00" y="174.8" width="2.60" height="21.90" fill="#08d8c8"/>
<rect x="383.00" y="152.6" width="1.60" height="22.20" fill="#2878e0"/>
<rect x="383.00" y="174.8" width="1.60" height="21.90" fill="#10c8b8"/>
<rect x="384.00" y="152.6" width="2.00" height="22.20" fill="#1848d0"/>
<rect x="384.00" y="174.8" width="2.00" height="21.90" fill="#08d0c0"/>
<rect x="385.40" y="152.6" width="2.60" height="44.10" fill="#109030"/>
<rect x="387.40" y="152.6" width="1.80" height="44.10" fill="#000"/>
<rect x="388.60" y="152.6" width="4.00" height="44.10" fill="#00ff00"/>
<rect x="392.00" y="152.6" width="2.00" height="22.20" fill="#1c54e4"/>
<rect x="393.40" y="152.6" width="3.00" height="22.20" fill="#1040e8"/>
<rect x="395.80" y="152.6" width="1.40" height="22.20" fill="#2468e4"/>
<rect x="396.60" y="152.6" width="1.80" height="22.20" fill="#1448e8"/>
<rect x="397.80" y="152.6" width="1.80" height="22.20" fill="#2478e8"/>
<rect x="399.00" y="152.6" width="2.60" height="22.20" fill="#2c98e4"/>
<rect x="401.00" y="152.6" width="2.60" height="22.20" fill="#0c24f0"/>
<rect x="403.00" y="152.6" width="1.40" height="22.20" fill="#f8e8f0"/>
<rect x="403.00" y="174.8" width="1.40" height="21.90" fill="#ff40f0"/>
<rect x="403.80" y="152.6" width="1.60" height="22.20" fill="#ffa8b4"/>
<rect x="403.80" y="174.8" width="1.60" height="21.90" fill="#ff00ff"/>
<rect x="404.80" y="152.6" width="15.80" height="44.10" fill="#bf2727"/>
<rect x="420.00" y="152.6" width="2.60" height="22.20" fill="#1040f0"/>
<rect x="422.00" y="152.6" width="1.60" height="22.20" fill="#2070e8"/>
<rect x="423.00" y="152.6" width="3.60" height="22.20" fill="#1240ec"/>
<rect x="426.00" y="152.6" width="1.60" height="22.20" fill="#2070e8"/>
<rect x="427.00" y="152.6" width="3.90" height="22.20" fill="#1240ec"/>
<rect x="430.30" y="152.6" width="6.30" height="22.20" fill="#ff0000"/>
<rect x="436.00" y="152.6" width="1.60" height="22.20" fill="#20a0e8"/>
<rect x="437.00" y="152.6" width="3.60" height="22.20" fill="#1244ec"/>
<rect x="440.00" y="152.6" width="1.60" height="22.20" fill="#1860e8"/>
<rect x="441.00" y="152.6" width="4.60" height="22.20" fill="#1244ec"/>
<rect x="445.00" y="152.6" width="1.60" height="22.20" fill="#1868e8"/>
<rect x="446.00" y="152.6" width="5.10" height="22.20" fill="#124aec"/>
<rect x="450.50" y="152.6" width="1.60" height="22.20" fill="#2088e8"/>
<rect x="451.50" y="152.6" width="2.60" height="22.20" fill="#124aec"/>
<rect x="453.50" y="152.6" width="1.60" height="22.20" fill="#2080e8"/>
<rect x="454.50" y="152.6" width="3.10" height="22.20" fill="#1250ec"/>
<rect x="457.00" y="152.6" width="1.60" height="22.20" fill="#2088e8"/>
<rect x="458.00" y="152.6" width="2.60" height="22.20" fill="#1058f0"/>
<rect x="460.00" y="152.6" width="1.60" height="22.20" fill="#2090e8"/>
<rect x="461.00" y="152.6" width="2.60" height="22.20" fill="#1060f0"/>
<rect x="463.00" y="152.6" width="3.60" height="22.20" fill="#1878e8"/>
<rect x="466.00" y="152.6" width="2.80" height="22.20" fill="#1a90e8"/>
<rect x="468.20" y="152.6" width="7.70" height="22.20" fill="#0a0af5"/>
<rect x="315.1" y="152.6" width="221.70" height="44.10" fill="none" stroke="#000" stroke-opacity="0.3" stroke-width="0.4"/>
<path d="M315.1 174.8H536.8" stroke="#000" stroke-opacity="0.4" stroke-width="0.6"/>
</g>
<g id="panelC">
<text x="141.50" y="224.20" text-anchor="middle" font-family='"Liberation Serif", serif' font-size="5.9" font-weight="bold" fill="#111" stroke="#111" stroke-width="0" >The number and proportion of genes contained in each module</text>
<path d="M133.1 318.9L134.29 233.71A85.2 85.2 0 0 1 163.33 239.24Z" fill="#bebebe" stroke="#bebebe" stroke-width="0.3"/>
<path d="M133.1 318.9L163.33 239.24A85.2 85.2 0 0 1 173.88 244.09Z" fill="#000000" stroke="#000000" stroke-width="0.3"/>
<path d="M133.1 318.9L173.88 244.09A85.2 85.2 0 0 1 207.38 277.17Z" fill="#bf2626" stroke="#bf2626" stroke-width="0.3"/>
<path d="M133.1 318.9L207.38 277.17A85.2 85.2 0 0 1 215.64 297.79Z" fill="#00ff00" stroke="#00ff00" stroke-width="0.3"/>
<path d="M133.1 318.9L215.64 297.79A85.2 85.2 0 0 1 216.72 302.59Z" fill="#adff2f" stroke="#adff2f" stroke-width="0.3"/>
<path d="M133.1 318.9L216.72 302.59A85.2 85.2 0 0 1 218.11 324.55Z" fill="#ff00ff" stroke="#ff00ff" stroke-width="0.3"/>
<path d="M133.1 318.9L218.11 324.55A85.2 85.2 0 0 1 217.14 332.89Z" fill="#a020f0" stroke="#a020f0" stroke-width="0.3"/>
<path d="M133.1 318.9L217.14 332.89A85.2 85.2 0 0 1 216.51 336.26Z" fill="#f2b183" stroke="#f2b183" stroke-width="0.3"/>
<path d="M133.1 318.9L216.51 336.26A85.2 85.2 0 1 1 106.53 237.95Z" fill="#06dfcf" stroke="#06dfcf" stroke-width="0.3"/>
<path d="M133.1 318.9L106.53 237.95A85.2 85.2 0 0 1 134.29 233.71Z" fill="#ffff00" stroke="#ffff00" stroke-width="0.3"/>
<text x="121.80" y="247.90" text-anchor="middle" font-family='"Liberation Serif", serif' font-size="5.0" font-weight="normal" fill="#2e2e00" stroke="#2e2e00" stroke-width="0.1" >405</text>
<text x="121.80" y="253.90" text-anchor="middle" font-family='"Liberation Serif", serif' font-size="5.0" font-weight="normal" fill="#2e2e00" stroke="#2e2e00" stroke-width="0.1" >(5.27%)</text>
<text x="145.60" y="251.00" text-anchor="middle" font-family='"Liberation Serif", serif' font-size="5.0" font-weight="normal" fill="#3c3c3c" stroke="#3c3c3c" stroke-width="0.1" >427</text>
<text x="145.60" y="257.40" text-anchor="middle" font-family='"Liberation Serif", serif' font-size="5.0" font-weight="normal" fill="#3c3c3c" stroke="#3c3c3c" stroke-width="0.1" >(5.55%)</text>
<text x="166.80" y="252.30" text-anchor="middle" font-family='"Liberation Serif", serif' font-size="5.0" font-weight="normal" fill="#ffffff" stroke="#ffffff" stroke-width="0.1" >167</text>
<text x="166.80" y="258.90" text-anchor="middle" font-family='"Liberation Serif", serif' font-size="5.0" font-weight="normal" fill="#ffffff" stroke="#ffffff" stroke-width="0.1" >(2.17%)</text>
<text x="181.00" y="271.90" text-anchor="middle" font-family='"Liberation Serif", serif' font-size="5.0" font-weight="normal" fill="#4a0c0c" stroke="#4a0c0c" stroke-width="0.1" >685</text>
<text x="181.00" y="276.80" text-anchor="middle" font-family='"Liberation Serif", serif' font-size="5.0" font-weight="normal" fill="#4a0c0c" stroke="#4a0c0c" stroke-width="0.1" >(8.91%)</text>
<text x="199.90" y="291.50" text-anchor="middle" font-family='"Liberation Serif", serif' font-size="5.0" font-weight="normal" fill="#063f06" stroke="#063f06" stroke-width="0.1" >320</text>
<text x="199.90" y="297.40" text-anchor="middle" font-family='"Liberation Serif", serif' font-size="5.0" font-weight="normal" fill="#063f06" stroke="#063f06" stroke-width="0.1" >(4.16%)</text>
<text x="203.60" y="306.20" text-anchor="middle" font-family='"Liberation Serif", serif' font-size="5.0" font-weight="normal" fill="#1f3000" stroke="#1f3000" stroke-width="0.1" >71 (0.92%)</text>
<text x="202.00" y="317.80" text-anchor="middle" font-family='"Liberation Serif", serif' font-size="5.0" font-weight="normal" fill="#6a0a6a" stroke="#6a0a6a" stroke-width="0.1" >317 (4.12%)</text>
<text x="205.50" y="327.60" text-anchor="middle" font-family='"Liberation Serif", serif' font-size="5.0" font-weight="normal" fill="#1a0a55" stroke="#1a0a55" stroke-width="0.1" >121 (1.57%)</text>
<text x="207.60" y="334.60" text-anchor="middle" font-family='"Liberation Serif", serif' font-size="5.0" font-weight="normal" fill="#222222" stroke="#222222" stroke-width="0.1" >49 (0.64%)</text>
<text x="112.80" y="343.60" text-anchor="middle" font-family='"Liberation Serif", serif' font-size="5.0" font-weight="normal" fill="#0b5f5a" stroke="#0b5f5a" stroke-width="0.1" >5127</text>
<text x="112.80" y="349.40" text-anchor="middle" font-family='"Liberation Serif", serif' font-size="5.0" font-weight="normal" fill="#0b5f5a" stroke="#0b5f5a" stroke-width="0.1" >(66.68%)</text>
<rect x="52.40" y="416.40" width="3.1" height="3.1" fill="#c4c4c4"/>
<text x="57.20" y="419.70" text-anchor="start" font-family='"Liberation Serif", serif' font-size="5.0" font-weight="normal" fill="#222" stroke="#222" stroke-width="0.08" >MEgrey</text>
<rect x="97.00" y="416.40" width="3.1" height="3.1" fill="#000"/>
<text x="101.80" y="419.70" text-anchor="start" font-family='"Liberation Serif", serif' font-size="5.0" font-weight="normal" fill="#222" stroke="#222" stroke-width="0.08" >MEblack</text>
<rect x="142.00" y="416.40" width="3.1" height="3.1" fill="#c00000"/>
<text x="146.80" y="419.70" text-anchor="start" font-family='"Liberation Serif", serif' font-size="5.0" font-weight="normal" fill="#222" stroke="#222" stroke-width="0.08" >MEbrown</text>
<rect x="186.60" y="416.40" width="3.1" height="3.1" fill="#00ee00"/>
<text x="191.40" y="419.70" text-anchor="start" font-family='"Liberation Serif", serif' font-size="5.0" font-weight="normal" fill="#222" stroke="#222" stroke-width="0.08" >MEgreen</text>
<rect x="52.40" y="423.80" width="3.1" height="3.1" fill="#8fef10"/>
<text x="57.20" y="427.10" text-anchor="start" font-family='"Liberation Serif", serif' font-size="5.0" font-weight="normal" fill="#222" stroke="#222" stroke-width="0.08" >MEgreenyellow</text>
<rect x="97.00" y="423.80" width="3.1" height="3.1" fill="#ff00ff"/>
<text x="101.80" y="427.10" text-anchor="start" font-family='"Liberation Serif", serif' font-size="5.0" font-weight="normal" fill="#222" stroke="#222" stroke-width="0.08" >MEmagenta</text>
<rect x="142.00" y="423.80" width="3.1" height="3.1" fill="#a800f0"/>
<text x="146.80" y="427.10" text-anchor="start" font-family='"Liberation Serif", serif' font-size="5.0" font-weight="normal" fill="#222" stroke="#222" stroke-width="0.08" >MEpurple</text>
<rect x="186.60" y="423.80" width="3.1" height="3.1" fill="#e8a878"/>
<text x="191.40" y="427.10" text-anchor="start" font-family='"Liberation Serif", serif' font-size="5.0" font-weight="normal" fill="#222" stroke="#222" stroke-width="0.08" >MEtan</text>
<rect x="52.40" y="431.40" width="3.1" height="3.1" fill="#06dfd0"/>
<text x="57.20" y="434.70" text-anchor="start" font-family='"Liberation Serif", serif' font-size="5.0" font-weight="normal" fill="#222" stroke="#222" stroke-width="0.08" >MEturquoise</text>
<rect x="97.00" y="431.40" width="3.1" height="3.1" fill="#ffee00"/>
<text x="101.80" y="434.70" text-anchor="start" font-family='"Liberation Serif", serif' font-size="5.0" font-weight="normal" fill="#222" stroke="#222" stroke-width="0.08" >MEyellow</text>
</g>
<g id="panelD">
<text x="424.30" y="224.40" text-anchor="middle" font-family='"Liberation Sans", sans-serif' font-size="4.78" font-weight="bold" fill="#111" stroke="#111" stroke-width="0.1" >Eigengene adjacency heatmap</text>
<text x="432.50" y="328.00" text-anchor="middle" font-family='"Liberation Sans", sans-serif' font-size="4.78" font-weight="bold" fill="#111" stroke="#111" stroke-width="0.1" >Eigengene adjacency heatmap</text>
<path d="M319.00 234.00V290.60" stroke="#a6a6a6" stroke-width="1.0" fill="none"/>
<path d="M317.00 237.80H319.00" stroke="#a6a6a6" stroke-width="0.8" fill="none"/>
<text transform="translate(311.30,237.80) rotate(-90)" text-anchor="middle" font-family='"Liberation Sans", sans-serif' font-size="3.6" font-weight="normal" fill="#222" stroke="#222" stroke-width="0.07" dy="1.30">1.2</text>
<path d="M317.00 248.30H319.00" stroke="#a6a6a6" stroke-width="0.8" fill="none"/>
<text transform="translate(311.30,248.30) rotate(-90)" text-anchor="middle" font-family='"Liberation Sans", sans-serif' font-size="3.6" font-weight="normal" fill="#222" stroke="#222" stroke-width="0.07" dy="1.30">1.0</text>
<path d="M317.00 258.90H319.00" stroke="#a6a6a6" stroke-width="0.8" fill="none"/>
<text transform="translate(311.30,258.90) rotate(-90)" text-anchor="middle" font-family='"Liberation Sans", sans-serif' font-size="3.6" font-weight="normal" fill="#222" stroke="#222" stroke-width="0.07" dy="1.30">0.8</text>
<path d="M317.00 269.50H319.00" stroke="#a6a6a6" stroke-width="0.8" fill="none"/>
<text transform="translate(311.30,269.50) rotate(-90)" text-anchor="middle" font-family='"Liberation Sans", sans-serif' font-size="3.6" font-weight="normal" fill="#222" stroke="#222" stroke-width="0.07" dy="1.30">0.6</text>
<path d="M317.00 280.00H319.00" stroke="#a6a6a6" stroke-width="0.8" fill="none"/>
<text transform="translate(311.30,280.00) rotate(-90)" text-anchor="middle" font-family='"Liberation Sans", sans-serif' font-size="3.6" font-weight="normal" fill="#222" stroke="#222" stroke-width="0.07" dy="1.30">0.4</text>
<path d="M317.00 290.50H319.00" stroke="#a6a6a6" stroke-width="0.8" fill="none"/>
<text transform="translate(311.30,290.50) rotate(-90)" text-anchor="middle" font-family='"Liberation Sans", sans-serif' font-size="3.6" font-weight="normal" fill="#222" stroke="#222" stroke-width="0.07" dy="1.30">0.2</text>
<path d="M347.70 236.80H464.40" stroke="#909090" stroke-width="0.9" fill="none"/>
<path d="M347.70 236.80V250.80" stroke="#909090" stroke-width="0.9" fill="none"/>
<path d="M326.80 250.80H369.30" stroke="#909090" stroke-width="0.9" fill="none"/>
<path d="M326.80 250.80V256.00" stroke="#909090" stroke-width="0.9" fill="none"/>
<path d="M369.30 250.80V268.10" stroke="#909090" stroke-width="0.9" fill="none"/>
<path d="M350.80 268.10H387.60" stroke="#909090" stroke-width="0.9" fill="none"/>
<path d="M350.80 268.10V273.20" stroke="#909090" stroke-width="0.9" fill="none"/>
<path d="M387.60 268.10V284.40" stroke="#909090" stroke-width="0.9" fill="none"/>
<path d="M375.00 284.40H399.40" stroke="#909090" stroke-width="0.9" fill="none"/>
<path d="M375.00 284.40V289.40" stroke="#909090" stroke-width="0.9" fill="none"/>
<path d="M399.40 284.40V289.40" stroke="#909090" stroke-width="0.9" fill="none"/>
<path d="M464.40 236.80V245.20" stroke="#909090" stroke-width="0.9" fill="none"/>
<path d="M436.40 245.20H491.60" stroke="#909090" stroke-width="0.9" fill="none"/>
<path d="M436.40 245.20V265.30" stroke="#909090" stroke-width="0.9" fill="none"/>
<path d="M424.20 265.30H448.90" stroke="#909090" stroke-width="0.9" fill="none"/>
<path d="M424.20 265.30V270.30" stroke="#909090" stroke-width="0.9" fill="none"/>
<path d="M448.90 265.30V270.30" stroke="#909090" stroke-width="0.9" fill="none"/>
<path d="M491.60 245.20V259.70" stroke="#909090" stroke-width="0.9" fill="none"/>
<path d="M473.30 259.70H509.90" stroke="#909090" stroke-width="0.9" fill="none"/>
<path d="M473.30 259.70V264.80" stroke="#909090" stroke-width="0.9" fill="none"/>
<path d="M509.90 259.70V283.40" stroke="#909090" stroke-width="0.9" fill="none"/>
<path d="M498.00 283.40H522.60" stroke="#909090" stroke-width="0.9" fill="none"/>
<path d="M498.00 283.40V288.40" stroke="#909090" stroke-width="0.9" fill="none"/>
<path d="M522.60 283.40V288.40" stroke="#909090" stroke-width="0.9" fill="none"/>
<text transform="translate(326.80,258.00) rotate(-90)" text-anchor="end" font-family='"Liberation Sans", sans-serif' font-size="3.85" font-weight="normal" fill="#222" stroke="#222" stroke-width="0.07" dy="1.39">MEbrown</text>
<text transform="translate(350.80,275.20) rotate(-90)" text-anchor="end" font-family='"Liberation Sans", sans-serif' font-size="3.85" font-weight="normal" fill="#222" stroke="#222" stroke-width="0.07" dy="1.39">MEmagenta</text>
<text transform="translate(375.00,291.40) rotate(-90)" text-anchor="end" font-family='"Liberation Sans", sans-serif' font-size="3.85" font-weight="normal" fill="#222" stroke="#222" stroke-width="0.07" dy="1.39">MEgreen</text>
<text transform="translate(399.40,291.40) rotate(-90)" text-anchor="end" font-family='"Liberation Sans", sans-serif' font-size="3.85" font-weight="normal" fill="#222" stroke="#222" stroke-width="0.07" dy="1.39">MEyellow</text>
<text transform="translate(424.20,272.30) rotate(-90)" text-anchor="end" font-family='"Liberation Sans", sans-serif' font-size="3.85" font-weight="normal" fill="#222" stroke="#222" stroke-width="0.07" dy="1.39">MEblack</text>
<text transform="translate(448.90,272.30) rotate(-90)" text-anchor="end" font-family='"Liberation Sans", sans-serif' font-size="3.85" font-weight="normal" fill="#222" stroke="#222" stroke-width="0.07" dy="1.39">MEtan</text>
<text transform="translate(473.30,266.80) rotate(-90)" text-anchor="end" font-family='"Liberation Sans", sans-serif' font-size="3.85" font-weight="normal" fill="#222" stroke="#222" stroke-width="0.07" dy="1.39">MEturquoise</text>
<text transform="translate(498.00,290.40) rotate(-90)" text-anchor="end" font-family='"Liberation Sans", sans-serif' font-size="3.85" font-weight="normal" fill="#222" stroke="#222" stroke-width="0.07" dy="1.39">MEgreenyellow</text>
<text transform="translate(522.60,290.40) rotate(-90)" text-anchor="end" font-family='"Liberation Sans", sans-serif' font-size="3.85" font-weight="normal" fill="#222" stroke="#222" stroke-width="0.07" dy="1.39">MEpurple</text>
<rect x="318.80" y="331.20" width="23.87" height="10.46" fill="#ff2d00"/>
<rect x="342.57" y="331.20" width="23.87" height="10.46" fill="#12b0fa"/>
<rect x="366.33" y="331.20" width="23.87" height="10.46" fill="#ff7052"/>
<rect x="390.10" y="331.20" width="23.87" height="10.46" fill="#ffeae5"/>
<rect x="413.87" y="331.20" width="23.87" height="10.46" fill="#8ed9fd"/>
<rect x="437.63" y="331.20" width="23.87" height="10.46" fill="#caedfe"/>
<rect x="461.40" y="331.20" width="23.87" height="10.46" fill="#0e9cfa"/>
<rect x="485.17" y="331.20" width="23.87" height="10.46" fill="#c4ebfe"/>
<rect x="508.93" y="331.20" width="23.87" height="10.46" fill="#7dd4fc"/>
<rect x="318.80" y="341.56" width="23.87" height="10.46" fill="#12b0fa"/>
<rect x="342.57" y="341.56" width="23.87" height="10.46" fill="#ff2d00"/>
<rect x="366.33" y="341.56" width="23.87" height="10.46" fill="#ffe0d9"/>
<rect x="390.10" y="341.56" width="23.87" height="10.46" fill="#ff8c73"/>
<rect x="413.87" y="341.56" width="23.87" height="10.46" fill="#8ed9fd"/>
<rect x="437.63" y="341.56" width="23.87" height="10.46" fill="#fff2f0"/>
<rect x="461.40" y="341.56" width="23.87" height="10.46" fill="#ffb5a6"/>
<rect x="485.17" y="341.56" width="23.87" height="10.46" fill="#e4f6fe"/>
<rect x="508.93" y="341.56" width="23.87" height="10.46" fill="#ff9680"/>
<rect x="318.80" y="351.91" width="23.87" height="10.46" fill="#ff7052"/>
<rect x="342.57" y="351.91" width="23.87" height="10.46" fill="#ffe0d9"/>
<rect x="366.33" y="351.91" width="23.87" height="10.46" fill="#ff2d00"/>
<rect x="390.10" y="351.91" width="23.87" height="10.46" fill="#ff7b5e"/>
<rect x="413.87" y="351.91" width="23.87" height="10.46" fill="#0d95fa"/>
<rect x="437.63" y="351.91" width="23.87" height="10.46" fill="#caedfe"/>
<rect x="461.40" y="351.91" width="23.87" height="10.46" fill="#10a6fa"/>
<rect x="485.17" y="351.91" width="23.87" height="10.46" fill="#c0eafe"/>
<rect x="508.93" y="351.91" width="23.87" height="10.46" fill="#fff0ed"/>
<rect x="318.80" y="362.27" width="23.87" height="10.46" fill="#ffeae5"/>
<rect x="342.57" y="362.27" width="23.87" height="10.46" fill="#ff8c73"/>
<rect x="366.33" y="362.27" width="23.87" height="10.46" fill="#ff7b5e"/>
<rect x="390.10" y="362.27" width="23.87" height="10.46" fill="#ff2d00"/>
<rect x="413.87" y="362.27" width="23.87" height="10.46" fill="#11a9fa"/>
<rect x="437.63" y="362.27" width="23.87" height="10.46" fill="#d4f1fe"/>
<rect x="461.40" y="362.27" width="23.87" height="10.46" fill="#a5e1fd"/>
<rect x="485.17" y="362.27" width="23.87" height="10.46" fill="#e0f5fe"/>
<rect x="508.93" y="362.27" width="23.87" height="10.46" fill="#ffc0b2"/>
<rect x="318.80" y="372.62" width="23.87" height="10.46" fill="#8ed9fd"/>
<rect x="342.57" y="372.62" width="23.87" height="10.46" fill="#8ed9fd"/>
<rect x="366.33" y="372.62" width="23.87" height="10.46" fill="#0d95fa"/>
<rect x="390.10" y="372.62" width="23.87" height="10.46" fill="#11a9fa"/>
<rect x="413.87" y="372.62" width="23.87" height="10.46" fill="#ff2d00"/>
<rect x="437.63" y="372.62" width="23.87" height="10.46" fill="#ffc6ba"/>
<rect x="461.40" y="372.62" width="23.87" height="10.46" fill="#ffc6ba"/>
<rect x="485.17" y="372.62" width="23.87" height="10.46" fill="#ffc6ba"/>
<rect x="508.93" y="372.62" width="23.87" height="10.46" fill="#c4ebfe"/>
<rect x="318.80" y="382.98" width="23.87" height="10.46" fill="#caedfe"/>
<rect x="342.57" y="382.98" width="23.87" height="10.46" fill="#fff2f0"/>
<rect x="366.33" y="382.98" width="23.87" height="10.46" fill="#caedfe"/>
<rect x="390.10" y="382.98" width="23.87" height="10.46" fill="#d4f1fe"/>
<rect x="413.87" y="382.98" width="23.87" height="10.46" fill="#ffc6ba"/>
<rect x="437.63" y="382.98" width="23.87" height="10.46" fill="#ff2d00"/>
<rect x="461.40" y="382.98" width="23.87" height="10.46" fill="#c7ecfe"/>
<rect x="485.17" y="382.98" width="23.87" height="10.46" fill="#9edffd"/>
<rect x="508.93" y="382.98" width="23.87" height="10.46" fill="#b4e6fd"/>
<rect x="318.80" y="393.33" width="23.87" height="10.46" fill="#0e9cfa"/>
<rect x="342.57" y="393.33" width="23.87" height="10.46" fill="#ffb5a6"/>
<rect x="366.33" y="393.33" width="23.87" height="10.46" fill="#10a6fa"/>
<rect x="390.10" y="393.33" width="23.87" height="10.46" fill="#a5e1fd"/>
<rect x="413.87" y="393.33" width="23.87" height="10.46" fill="#ffc6ba"/>
<rect x="437.63" y="393.33" width="23.87" height="10.46" fill="#c7ecfe"/>
<rect x="461.40" y="393.33" width="23.87" height="10.46" fill="#ff2d00"/>
<rect x="485.17" y="393.33" width="23.87" height="10.46" fill="#ffe0d9"/>
<rect x="508.93" y="393.33" width="23.87" height="10.46" fill="#ffcabf"/>
<rect x="318.80" y="403.69" width="23.87" height="10.46" fill="#c4ebfe"/>
<rect x="342.57" y="403.69" width="23.87" height="10.46" fill="#e4f6fe"/>
<rect x="366.33" y="403.69" width="23.87" height="10.46" fill="#c0eafe"/>
<rect x="390.10" y="403.69" width="23.87" height="10.46" fill="#e0f5fe"/>
<rect x="413.87" y="403.69" width="23.87" height="10.46" fill="#ffc6ba"/>
<rect x="437.63" y="403.69" width="23.87" height="10.46" fill="#9edffd"/>
<rect x="461.40" y="403.69" width="23.87" height="10.46" fill="#ffe0d9"/>
<rect x="485.17" y="403.69" width="23.87" height="10.46" fill="#ff2d00"/>
<rect x="508.93" y="403.69" width="23.87" height="10.46" fill="#ff7759"/>
<rect x="318.80" y="414.04" width="23.87" height="10.46" fill="#7dd4fc"/>
<rect x="342.57" y="414.04" width="23.87" height="10.46" fill="#ff9680"/>
<rect x="366.33" y="414.04" width="23.87" height="10.46" fill="#fff0ed"/>
<rect x="390.10" y="414.04" width="23.87" height="10.46" fill="#ffc0b2"/>
<rect x="413.87" y="414.04" width="23.87" height="10.46" fill="#c4ebfe"/>
<rect x="437.63" y="414.04" width="23.87" height="10.46" fill="#b4e6fd"/>
<rect x="461.40" y="414.04" width="23.87" height="10.46" fill="#ffcabf"/>
<rect x="485.17" y="414.04" width="23.87" height="10.46" fill="#ff7759"/>
<rect x="508.93" y="414.04" width="23.87" height="10.46" fill="#ff2d00"/>
<rect x="310.7" y="331.20" width="7.0" height="10.41" fill="#b82626"/>
<rect x="318.80" y="425.0" width="23.82" height="5.5" fill="#b82626"/>
<rect x="310.7" y="341.56" width="7.0" height="10.41" fill="#ff00ff"/>
<rect x="342.57" y="425.0" width="23.82" height="5.5" fill="#ff00ff"/>
<rect x="310.7" y="351.91" width="7.0" height="10.41" fill="#00ff00"/>
<rect x="366.33" y="425.0" width="23.82" height="5.5" fill="#00ff00"/>
<rect x="310.7" y="362.27" width="7.0" height="10.41" fill="#ffff00"/>
<rect x="390.10" y="425.0" width="23.82" height="5.5" fill="#ffff00"/>
<rect x="310.7" y="372.62" width="7.0" height="10.41" fill="#000000"/>
<rect x="413.87" y="425.0" width="23.82" height="5.5" fill="#000000"/>
<rect x="310.7" y="382.98" width="7.0" height="10.41" fill="#d8b08a"/>
<rect x="437.63" y="425.0" width="23.82" height="5.5" fill="#d8b08a"/>
<rect x="310.7" y="393.33" width="7.0" height="10.41" fill="#08d8d0"/>
<rect x="461.40" y="425.0" width="23.82" height="5.5" fill="#08d8d0"/>
<rect x="310.7" y="403.69" width="7.0" height="10.41" fill="#90f010"/>
<rect x="485.17" y="425.0" width="23.82" height="5.5" fill="#90f010"/>
<rect x="310.7" y="414.04" width="7.0" height="10.41" fill="#a818f0"/>
<rect x="508.93" y="425.0" width="23.82" height="5.5" fill="#a818f0"/>
<defs><linearGradient id="key" x1="0" y1="0" x2="0" y2="1"><stop offset="0" stop-color="#ff2d00"/><stop offset="0.5" stop-color="#ffffff"/><stop offset="0.9" stop-color="#12b0fa"/><stop offset="1" stop-color="#0c8efa"/></linearGradient></defs>
<rect x="534.5" y="337.0" width="3.6" height="81.8" fill="url(#key)"/>
<path d="M538.10 337.00H539.60" stroke="#888" stroke-width="0.5" fill="none"/>
<text x="541.20" y="338.40" text-anchor="start" font-family='"Liberation Sans", sans-serif' font-size="3.9" font-weight="normal" fill="#333" stroke="#333" stroke-width="0.1" >1</text>
<path d="M538.10 353.30H539.60" stroke="#888" stroke-width="0.5" fill="none"/>
<text x="541.20" y="354.70" text-anchor="start" font-family='"Liberation Sans", sans-serif' font-size="3.9" font-weight="normal" fill="#333" stroke="#333" stroke-width="0.1" >0.8</text>
<path d="M538.10 369.70H539.60" stroke="#888" stroke-width="0.5" fill="none"/>
<text x="541.20" y="371.10" text-anchor="start" font-family='"Liberation Sans", sans-serif' font-size="3.9" font-weight="normal" fill="#333" stroke="#333" stroke-width="0.1" >0.6</text>
<path d="M538.10 386.10H539.60" stroke="#888" stroke-width="0.5" fill="none"/>
<text x="541.20" y="387.50" text-anchor="start" font-family='"Liberation Sans", sans-serif' font-size="3.9" font-weight="normal" fill="#333" stroke="#333" stroke-width="0.1" >0.4</text>
<path d="M538.10 402.50H539.60" stroke="#888" stroke-width="0.5" fill="none"/>
<text x="541.20" y="403.90" text-anchor="start" font-family='"Liberation Sans", sans-serif' font-size="3.9" font-weight="normal" fill="#333" stroke="#333" stroke-width="0.1" >0.2</text>
<path d="M538.10 418.70H539.60" stroke="#888" stroke-width="0.5" fill="none"/>
<text x="541.20" y="420.10" text-anchor="start" font-family='"Liberation Sans", sans-serif' font-size="3.9" font-weight="normal" fill="#333" stroke="#333" stroke-width="0.1" >0</text>
</g>
</svg>
</body></html>
